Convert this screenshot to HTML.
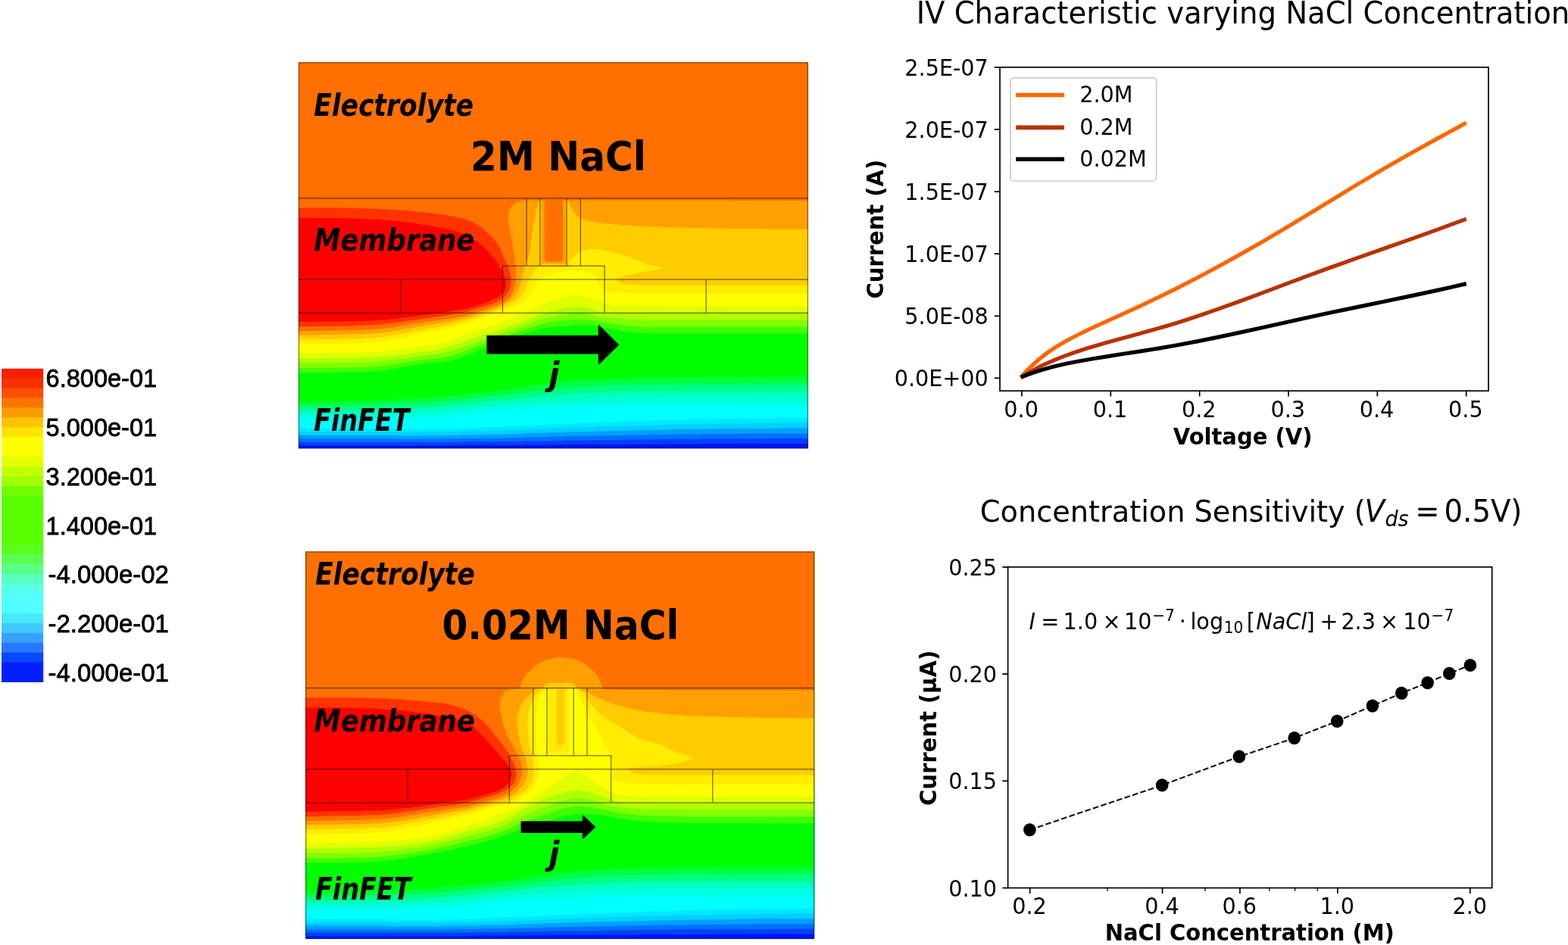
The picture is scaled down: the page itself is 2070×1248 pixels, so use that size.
<!DOCTYPE html>
<html lang="en"><head><meta charset="utf-8"><title>FinFET ion sensor: potential maps and IV characteristics</title>
<style>html,body{margin:0;padding:0;background:#fff}body{width:2070px;height:1248px;overflow:hidden}svg{display:block}.dj{font-family:"DejaVu Sans","Liberation Sans",sans-serif}.ls{font-family:"Liberation Sans","DejaVu Sans",sans-serif}.dc{font-family:"DejaVu Sans Condensed","DejaVu Sans","Liberation Sans",sans-serif}</style></head>
<body>
<svg width="2070" height="1248" viewBox="0 0 2070 1248">
<rect width="2070" height="1248" fill="#fff"/>
<g id="colorbar">
<rect x="2" y="486.8" width="55.2" height="13.33" fill="#f62000"/>
<rect x="2" y="499.73" width="55.2" height="13.33" fill="#f93000"/>
<rect x="2" y="512.66" width="55.2" height="13.33" fill="#fb5000"/>
<rect x="2" y="525.59" width="55.2" height="13.33" fill="#fb7400"/>
<rect x="2" y="538.52" width="55.2" height="13.33" fill="#fb9c00"/>
<rect x="2" y="551.46" width="55.2" height="13.33" fill="#ffc400"/>
<rect x="2" y="564.39" width="55.2" height="13.33" fill="#ffe400"/>
<rect x="2" y="577.32" width="55.2" height="13.33" fill="#ffff00"/>
<rect x="2" y="590.25" width="55.2" height="13.33" fill="#ffff00"/>
<rect x="2" y="603.18" width="55.2" height="13.33" fill="#e4ff00"/>
<rect x="2" y="616.11" width="55.2" height="13.33" fill="#c0ff00"/>
<rect x="2" y="629.04" width="55.2" height="13.33" fill="#a0ff00"/>
<rect x="2" y="641.97" width="55.2" height="13.33" fill="#70ff00"/>
<rect x="2" y="654.91" width="55.2" height="13.33" fill="#58ff00"/>
<rect x="2" y="667.84" width="55.2" height="13.33" fill="#58ff00"/>
<rect x="2" y="680.77" width="55.2" height="13.33" fill="#58ff00"/>
<rect x="2" y="693.7" width="55.2" height="13.33" fill="#58ff00"/>
<rect x="2" y="706.63" width="55.2" height="13.33" fill="#58ff00"/>
<rect x="2" y="719.56" width="55.2" height="13.33" fill="#58ff20"/>
<rect x="2" y="732.49" width="55.2" height="13.33" fill="#58ff50"/>
<rect x="2" y="745.42" width="55.2" height="13.33" fill="#58ff88"/>
<rect x="2" y="758.36" width="55.2" height="13.33" fill="#58ffc0"/>
<rect x="2" y="771.29" width="55.2" height="13.33" fill="#58ffe8"/>
<rect x="2" y="784.22" width="55.2" height="13.33" fill="#50ffff"/>
<rect x="2" y="797.15" width="55.2" height="13.33" fill="#50ffff"/>
<rect x="2" y="810.08" width="55.2" height="13.33" fill="#48e8ff"/>
<rect x="2" y="823.01" width="55.2" height="13.33" fill="#40c8ff"/>
<rect x="2" y="835.94" width="55.2" height="13.33" fill="#38a0ff"/>
<rect x="2" y="848.87" width="55.2" height="13.33" fill="#2878ff"/>
<rect x="2" y="861.81" width="55.2" height="13.33" fill="#0848ff"/>
<rect x="2" y="874.74" width="55.2" height="13.33" fill="#0020ff"/>
<rect x="2" y="887.67" width="55.2" height="13.33" fill="#0020ff"/>
<g class="ls" font-size="32.4" fill="#000" stroke="#000" stroke-width="0.8" stroke-linejoin="round">
<text transform="translate(60.6 511) scale(1.004 1)">6.800e-01</text>
<text transform="translate(60.6 575.85) scale(1.004 1)">5.000e-01</text>
<text transform="translate(60.6 640.7) scale(1.004 1)">3.200e-01</text>
<text transform="translate(60.6 705.55) scale(1.004 1)">1.400e-01</text>
<text transform="translate(63.6 770.4) scale(1.016 1)">-4.000e-02</text>
<text transform="translate(63.6 835.25) scale(1.016 1)">-2.200e-01</text>
<text transform="translate(63.6 900.1) scale(1.016 1)">-4.000e-01</text>
</g></g>
<g id="panel-2M">
<clipPath id="clipa"><rect x="394.0" y="82.3" width="673.0" height="509.99999999999994"/></clipPath>
<g clip-path="url(#clipa)" shape-rendering="geometricPrecision">
<rect x="392.0" y="80.3" width="677.0" height="514.0" fill="#0012ff"/>
<path fill="#0040ff" fill-rule="evenodd" d="M350.2 38.6l0 549.4l51.6 0l0.4 0.6l203 0l0.6-0.6l81.4 0l0.6-0.4l59 0l0.4-0.6l178-0.4l0.6-0.6l185 0l0-547.4z"/>
<path fill="#0070ff" fill-rule="evenodd" d="M350.2 38.6l0 545l51.6 0l0.4 0.4l203 0l0.6-0.4l46 0l0.4-0.6l35 0l0.6-0.4l59-0.6l0.4-0.4l36.6 0l0.4-0.6l41 0l0.6-0.4l45 0l0.4-0.6l54 0l0.6-0.4l94 0l0.4-0.6l90.6 0l0-540.4z"/>
<path fill="#00a0ff" fill-rule="evenodd" d="M350.2 38.6l0 540.4l51.6 0l0.4 0.6l125 0l0.6 0.4l29.4 0l0.6-0.4l47.4 0l0.6-0.6l59.4-0.4l0.6-0.6l21.4 0l0.6-0.4l37.4-0.6l0.6-0.4l21 0l0.4-0.6l24.6 0l0.4-0.4l24 0l0.6-0.6l28.4 0l0.6-0.4l29 0l0.4-0.6l33.6 0l0.4-0.4l36 0l0.6-0.6l52.4 0l0.6-0.4l132 0l0-534z"/>
<path fill="#00d0ff" fill-rule="evenodd" d="M350.2 38.6l0 536l51.6 0l0.4 0.4l123 0l0.6 0.6l79.4-0.6l0.6-0.4l18 0l0.4-0.6l27.6 0l0.4-0.4l15 0l0.6-0.6l19.4 0l0.6-0.4l9.4 0l0.6-0.6l17.4 0l0.6-0.4l11.4 0l0.6-0.6l19 0l0.4-0.4l12.6 0l0.4-0.6l23.6 0l0.4-0.4l14 0l0.6-0.6l26.4 0l0.6-0.4l15.4 0l0.6-0.6l29 0l0.4-0.4l20 0l0.6-0.6l33.4 0l0.6-0.4l26 0l0.4-0.6l67.6 0l0.4-0.4l90.6 0l0-527z"/>
<path fill="#00e8ff" fill-rule="evenodd" d="M350.2 38.6l0 531.4l51.6 0l0.4 0.6l123.6 0l0.4 0.4l79-0.4l0.6-0.6l16.4 0l0.6-0.4l14.4 0l0.6-0.6l15.4 0l0.6-0.4l13 0l0.4-0.6l20 0l0.6-0.4l18.4-0.6l0.6-0.4l10 0l0.4-0.6l10 0l0.6-0.4l19 0l0.4-0.6l25.6-0.4l0.4-0.6l25-0.4l0.6-0.6l26.4 0l0.6-0.4l30.4-0.6l0.6-0.4l15.4 0l0.6-0.6l18 0l0.4-0.4l34 0l0.6-0.6l54-0.4l0.4-0.6l41 0l0.6-0.4l89 0l0-520z"/>
<path fill="#00ffff" fill-rule="evenodd" d="M350.2 38.6l0 527l51.6 0l0.4 0.4l79 0l0.6 0.6l45.4 0l0.6 0.4l59-0.4l0.4-0.6l18 0l0.6-0.4l16 0l0.4-0.6l14 0l0.6-0.4l28.4-0.6l0.6-0.4l21.4-0.6l0.6-0.4l7.4 0l0.6-0.6l9.4 0l0.6-0.4l9.4 0l0.6-0.6l9.4 0l0.6-0.4l9.4 0l0.6-0.6l11 0l0.4-0.4l10.6 0l0.4-0.6l13.6 0l0.4-0.4l24-0.6l0.6-0.4l14 0l0.4-0.6l14 0l0.6-0.4l13.4 0l0.6-0.6l15 0l0.4-0.4l15.6 0l0.4-0.6l35.6-0.4l0.4-0.6l42-0.4l0.6-0.6l28.4 0l0.6-0.4l41 0l0.4-0.6l90.6 0l0-513.4z"/>
<path fill="#00ffe0" fill-rule="evenodd" d="M350.2 38.6l0 514l156 0l0.6-0.6l42.4 0l0.6-0.4l13.4 0l0.6-0.6l7.4 0l0.6-0.4l13.4-0.6l0.6-0.4l3.4 0l0.6-0.6l5.4 0l0.6-0.4l9.4-0.6l0.6-0.4l3.4 0l0.6-0.6l5.4 0l0.6-0.4l3.4 0l0.6-0.6l3.4 0l0.6-0.4l3.4 0l0.6-0.6l3.4 0l0.6-0.4l3.4 0l0.6-0.6l3.4 0l0.6-0.4l3.4 0l0.6-0.6l5.4 0l0.6-0.4l9.4-0.6l0.6-0.4l8 0l0.4-0.6l7 0l0.6-0.4l9.4 0l0.6-0.6l9.4 0l0.6-0.4l22.4-0.6l0.6-0.4l26-0.6l0.4-0.4l11 0l0.6-0.6l11 0l0.4-0.4l13.6 0l0.4-0.6l12 0l0.6-0.4l14 0l0.4-0.6l18 0l0.6-0.4l283 0.4l0-496.4z"/>
<path fill="#00ffc0" fill-rule="evenodd" d="M350.2 38.6l0 509l151-0.6l0.6-0.4l11.4 0l0.6-0.6l33.4 0l0.6-0.4l7.4 0l0.6-0.6l7.4 0l0.6-0.4l7 0l0.4-0.6l13-0.4l0.6-0.6l4 0l0.4-0.4l5.6 0l0.4-0.6l3.6 0l0.4-0.4l5.6 0l0.4-0.6l4 0l0.6-0.4l5.4 0l0.6-0.6l8.4-0.4l0.6-0.6l3.4 0l0.6-0.4l4.4 0l0.6-0.6l3.4 0l0.6-0.4l3.4 0l0.6-0.6l5.4 0l0.6-0.4l8-0.6l0.4-0.4l11-0.6l0.6-0.4l6 0l0.4-0.6l9 0l0.6-0.4l3 0l0.4-0.6l16-0.4l0.6-0.6l4 0l0.4-0.4l8 0l0.6-0.6l13-0.4l0.4-0.6l10.6 0l0.4-0.4l4 0l0.6-0.6l20.4-0.4l0.6-0.6l13 0l0.4-0.4l12 0l0.6-0.6l14 0l0.4-0.4l18 0l0.6-0.6l41 0l0.4-0.4l243.6 0.4l0-487.4z"/>
<path fill="#00ff80" fill-rule="evenodd" d="M350.2 38.6l0 503.4l81 0l0.6-0.4l43.4 0l0.6-0.6l25.4 0l0.6-0.4l11.4 0l0.6-0.6l19.4 0l0.6-0.4l21.4-0.6l0.6-0.4l7.4 0l0.6-0.6l13.4-0.4l0.6-0.6l5.4 0l0.6-0.4l4.4 0l0.6-0.6l5.4 0l0.6-0.4l3.4 0l0.6-0.6l5.4 0l0.6-0.4l4.4 0l0.6-0.6l5 0l0.4-0.4l4.6 0l0.4-0.6l3.6 0l0.4-0.4l3.6 0l0.4-0.6l3.6 0l0.4-0.4l4.6 0l0.4-0.6l3.6 0l0.4-0.4l4.6 0l0.4-0.6l4.6 0l0.4-0.4l4.6 0l0.4-0.6l5 0l0.6-0.4l5 0l0.4-0.6l5 0l0.6-0.4l3 0l0.4-0.6l6.6 0l0.4-0.4l3 0l0.6-0.6l5 0l0.4-0.4l4.6 0l0.4-0.6l6 0l0.6-0.4l3 0l0.4-0.6l5.6 0l0.4-0.4l4 0l0.6-0.6l3.4 0l0.6-0.4l6.4 0l0.6-0.6l4 0l0.4-0.4l6.6 0l0.4-0.6l12.6-0.4l0.4-0.6l20-0.4l0.6-0.6l11.4 0l0.6-0.4l9.4 0l0.6-0.6l13.4 0l0.6-0.4l17.4 0l0.6-0.6l39 0l0.4-0.4l243.6 0l0-478z"/>
<path fill="#00ff40" fill-rule="evenodd" d="M350.2 38.6l0 498l81 0l0.6-0.6l28 0l0.4-0.4l16.6 0l0.4-0.6l24 0l0.6-0.4l11.4 0l0.6-0.6l10.4 0l0.6-0.4l10.4 0l0.6-0.6l19.4-0.4l0.6-0.6l7 0l0.4-0.4l6 0l0.6-0.6l6 0l0.4-0.4l5.6 0l0.4-0.6l5 0l0.6-0.4l5.4 0l0.6-0.6l3.4 0l0.6-0.4l11.4-0.6l0.6-0.4l9.4-0.6l0.6-0.4l3.4 0l0.6-0.6l3.4 0l0.6-0.4l3.4 0l0.6-0.6l4.4 0l0.6-0.4l3.4 0l0.6-0.6l4.4 0l0.6-0.4l4.4 0l0.6-0.6l4.4 0l0.6-0.4l5.4 0l0.6-0.6l8.4-0.4l0.6-0.6l2 0l0.4-0.4l4.6 0l0.4-0.6l8-0.4l0.6-0.6l3 0l0.4-0.4l4 0l0.6-0.6l8.4-0.4l0.6-0.6l2 0l0.4-0.4l4.6 0l0.4-0.6l2 0l0.6-0.4l4 0l0.4-0.6l3 0l0.6-0.4l5 0l0.4-0.6l7-0.4l0.6-0.6l4.4 0l0.6-0.4l5.4 0l0.6-0.6l5 0l0.4-0.4l7.6 0l0.4-0.6l7.6 0l0.4-0.4l8 0l0.6-0.6l21.4-0.4l0.6-0.6l31.4-0.4l0.6-0.6l69-0.4l0.4-0.6l211.6 0l0-468.4z"/>
<path fill="#00ff00" fill-rule="evenodd" d="M350.2 38.6l0 492.4l1 0l0.6 0.6l39.4 0l0.6-0.6l67-0.4l0.4-0.6l30-0.4l0.6-0.6l23.4-0.4l0.6-0.6l9.4 0l0.6-0.4l9.4 0l0.6-0.6l15.4-0.4l0.6-0.6l5.4 0l0.6-0.4l7 0l0.4-0.6l5.6 0l0.4-0.4l5.6 0l0.4-0.6l5.6 0l0.4-0.4l11.6-0.6l0.4-0.4l3.6 0l0.4-0.6l12-0.4l0.6-0.6l10-0.4l0.4-0.6l4 0l0.6-0.4l3.4 0l0.6-0.6l5.4 0l0.6-0.4l3.4 0l0.6-0.6l3.4 0l0.6-0.4l5.4 0l0.6-0.6l7-0.4l0.4-0.6l5 0l0.6-0.4l7.4-0.6l2.6-1l4 0l0.4-0.4l3.6 0l0.4-0.6l2 0l0.6-0.4l3.4 0l2.6-1l8-0.6l2.4-1l4 0l2.6-1l3.4 0l2.6-1l4 0l2-1l7.4-0.4l0.6-0.6l3 0l0.4-0.4l3 0l0.6-0.6l3 0l0.4-0.4l3 0l0.6-0.6l5.4 0l0.6-0.4l3.4 0l0.6-0.6l7.4 0l0.6-0.4l7.4 0l0.6-0.6l7.4 0l0.6-0.4l21.4-0.6l0.6-0.4l31.4-0.6l0.6-0.4l19 0l0.4-0.6l19.6 0l0.4-0.4l30 0l0.6-0.6l213-0.4l0-459z"/>
<path fill="#40ff00" fill-rule="evenodd" d="M350.2 38.6l0 454l68.6 0l0.4-0.6l34 0l0.6-0.4l19 0l0.4-0.6l11 0l0.6-0.4l14.4-0.6l0.6-0.4l4 0l0.4-0.6l3.6 0l0.4-0.4l4 0l2.6-1l4 0l2.4-1l4 0l0.6-0.6l4-0.4l0.4-0.6l3.6 0l0.4-0.4l1.6 0l2.4-1l3.6 0l2.4-1l3.6 0l2-1l6.4-0.6l0.6-0.4l2.4 0l0.6-0.6l9.4-0.4l0.6-0.6l8 0l0.4-0.4l3.6 0l0.4-0.6l5 0l2.6-1l3.4 0l0.6-0.4l5.4-1l2.6-1.6l6.4-1.4l5-2.6l1 0l3-1.4l2.6-0.6l1.4-1l2.6-0.4l3-2l2.4-0.6l3.6-2l2.4-0.4l8.6-4l2.4-0.6l3-1.4l3-0.6l5-2.4l2.6-0.6l1.4-1l2.6-0.4l3-1.6l3-0.4l1.4-1l2.6-0.6l5.4-2.4l3.6-0.6l3-1.4l1 0l2-1l1.4 0l4-2l1.6 0l0.4-0.6l1.6 0l0.4-0.4l1.6 0l0.4-0.6l7.6-1.4l2-1l1.4 0l0.6-0.6l1.4 0l2.6-1l6-0.4l2.4-1l4 0l0.6-0.6l3.4 0l0.6-0.4l6 0l0.4-0.6l6 0l0.6-0.4l5.4 0l0.6-0.6l6 0l0.4-0.4l20 0l0.6 0.4l5.4 0l0.6 0.6l3.4 0l0.6 0.4l2 0l0.4 0.6l3.6 0l0.4 0.4l1.6 0l2.4 1l2 0l0.6 0.6l3.4 0l2 1l1.6 0l0.4 0.4l1.6 0l0.4 0.6l1.6 0l2.4 1l3.6 0l0.4 0.4l2 0l2.6 1l3.4 0l0.6 0.6l7 0.4l0.4 0.6l18 0.4l0.6 0.6l257 0l0-402z"/>
<path fill="#80ff00" fill-rule="evenodd" d="M350.2 38.6l0 447.4l1 0l0.6 0.6l39.4 0l0.6-0.6l53 0l0.4-0.4l25.6 0l0.4-0.6l11 0l0.6-0.4l15-0.6l0.4-0.4l4 0l0.6-0.6l4 0l0.4-0.4l4.6 0l0.4-0.6l2 0l0.6-0.4l8.4-0.6l0.6-0.4l2 0l0.4-0.6l2 0l0.6-0.4l3.4 0l0.6-0.6l2.4 0l0.6-0.4l2 0l0.4-0.6l7.6-0.4l2.4-1l6.6-0.6l0.4-0.4l6-0.6l0.6-0.4l5.4 0l0.6-0.6l2.4 0l0.6-0.4l6 0l0.4-0.6l2.6 0l0.4-0.4l4.6 0l0.4-0.6l2 0l2.6-1l2.4 0l0.6-0.4l3.4-0.6l3-1.4l1.6 0l0.4-0.6l5.6-1.4l1.4-1l1 0l1.6-1l6.4-2l1.6-1l3-0.6l3-2l1 0l0.4-0.4l2.6-0.6l1.4-1l2.6-0.4l1.4-1l2.6-0.6l5-2.4l1.4 0l0.6-0.6l8.4-2.4l1.6-1l8-2.6l1.4-1l4.6-1l1.4-1l2.6-0.4l5.4-2.6l6-1.4l1.6-1l4-1l2.4-1.6l3-0.4l2-1l1.6 0l3-1.6l1.4 0l2-1l1.6 0l3.4-1.4l1.6 0l0.4-0.6l5-1l0.6-0.4l2.4 0l4-1.6l3 0l2-1l7.6-0.4l2.4-1l4.6 0l0.4-0.6l7-0.4l0.6-0.6l5.4 0l0.6-0.4l12 0l0.4 0.4l6 0l0.6 0.6l3.4 0l0.6 0.4l2 0l0.4 0.6l3 0l2 1l3 0l2.6 1l3.4 0l0.6 0.4l6 0.6l0.4 0.4l4.6 0l0.4 0.6l5 0.4l0.6 0.6l2.4 0l0.6 0.4l4.4 0l0.6 0.6l8 0.4l0.4 0.6l6.6 0l0.4 0.4l8 0l0.6 0.6l265 0l0-393z"/>
<path fill="#b0ff00" fill-rule="evenodd" d="M350.2 38.6l0 441l1 0l0.6 0.4l39.4 0l0.6-0.4l53 0l0.4-0.6l24 0l0.6-0.4l11 0l0.4-0.6l17.6-0.4l0.4-0.6l11.6-0.4l0.4-0.6l3 0l0.6-0.4l3 0l0.4-0.6l4.6 0l0.4-0.4l3.6 0l0.4-0.6l3.6 0l0.4-0.4l6.6-0.6l0.4-0.4l2.6 0l0.4-0.6l3.6 0l0.4-0.4l2 0l0.6-0.6l3 0l0.4-0.4l3 0l0.6-0.6l3 0l0.4-0.4l3 0l0.6-0.6l4.4 0l0.6-0.4l2.4 0l0.6-0.6l5.4 0l2.6-1l6-0.4l2.4-1l2 0l0.6-0.6l2 0l0.4-0.4l3.6-0.6l0.4-0.4l8.6-2.6l1.4-1l4-1l2.6-1.4l2.4-0.6l1.6-1l1.4 0l0.6-0.4l2.4-0.6l2.6-1.4l1 0l2-1l1.4 0l1.6-1l8-2.6l1.4-1l3-0.4l2-1l1.6 0l3-1.6l3-0.4l3-1.6l7-2l1.4-1l4.6-1l1.4-1l2.6-0.4l5.4-2.6l3-0.4l5.6-2.6l2.4-0.4l5-2.6l1.6 0l4-2l1 0l9.4-3.4l1.6 0l5-2l1.4 0l0.6-0.6l1.4 0l1.6-1l1.4 0l0.6-0.4l1.4 0l0.6-0.6l1.4 0l2.6-1l2.4 0l0.6-0.4l1.4 0l2.6-1l2 0l0.4-0.6l2 0l0.6-0.4l2 0l0.4-0.6l6.6-0.4l0.4-0.6l5 0l0.6-0.4l14 0l0.4 0.4l4.6 0l0.4 0.6l2.6 0l0.4 0.4l1.6 0l0.4 0.6l7.6 1.4l1.4 1l2 0l0.6 0.6l1.4 0l2.6 1l14 0.4l0.4 0.6l13 0.4l0.6 0.6l8.4 0l0.6 0.4l15 0l0.4 0.6l263.6 0l0-384z"/>
<path fill="#e0ff00" fill-rule="evenodd" d="M350.2 38.6l0 434.4l1 0l0.6 0.6l93-0.6l0.4-0.4l27.6 0l0.4-0.6l24-0.4l0.6-0.6l6 0l0.4-0.4l5.6 0l0.4-0.6l4 0l0.6-0.4l10.4-0.6l0.6-0.4l8-0.6l0.4-0.4l3.6 0l0.4-0.6l3.6 0l0.4-0.4l3.6 0l0.4-0.6l10-1l0.6-0.4l2.4 0l0.6-0.6l7.4-0.4l2.6-1l4 0l0.4-0.6l1.6 0l2.4-1l3.6 0l0.4-0.4l3.6-0.6l2-1l1.4 0l0.6-0.4l7.4-1.6l2.6-1.4l2.4-0.6l3-1.4l1.6 0l2.4-1.6l2.6-0.4l1.4-1l5-1l4-2l3.6-0.6l3-1.4l1 0l2-1l1.4 0l4.6-2l5.4-1l4.6-2l3.4-0.6l3-1.4l3-0.6l3-1.4l4.6-1l1.4-1l2.6-0.6l1.4-1l1 0l3-1.4l6.6-2l2.4-1.6l2.6-0.4l5-2.6l2.4-0.4l3-2l2.6-0.6l1.4-1l4-1l3-1.4l3-0.6l2.6-1.4l1.4 0l3-1.6l4.6-1l3-1.4l4.4-0.6l4.6-2l2 0l0.4-0.4l1.6 0l4-1.6l4 0l2.4-1l4 0l0.6-0.4l16 0l0.4 0.4l4 0l0.6 0.6l5.4 1l3 1.4l3 0.6l5.6 2.4l3.4 0.6l2 1l314.6 0l0-375z"/>
<path fill="#ffff00" fill-rule="evenodd" d="M350.2 38.6l0 428l72.6 0l0.4-0.6l36.6 0l0.4-0.4l20.6 0l0.4-0.6l10.6 0l0.4-0.4l7 0l0.6-0.6l12.4-0.4l0.6-0.6l3.4 0l0.6-0.4l4 0l0.4-0.6l4 0l0.6-0.4l3.4 0l0.6-0.6l4 0l0.4-0.4l7.6-0.6l2.4-1l3.6 0l0.4-0.4l3 0l0.6-0.6l4.4 0l0.6-0.4l2.4 0l0.6-0.6l3.4 0l2.6-1l3.4 0l0.6-0.4l2 0l0.4-0.6l3.6 0l0.4-0.4l1.6 0l0.4-0.6l1.6 0l0.4-0.4l1.6 0l0.4-0.6l3.6-0.4l2-1l1.4 0l0.6-0.6l5-1l1.4-1l2.6-0.4l3-2l2.4-0.6l9-4.4l3-0.6l4.6-2l3.4-0.4l6-2.6l3.6-0.4l3-1.6l3-0.4l0.4-0.6l2.6-0.4l1.4-1l3-0.6l3-1.4l4.6-1l5-2.6l4.4-1l1.6-1l2.4-0.4l1.6-1l2.4-0.6l5.6-2.4l4-1l7-3.6l2.4-0.4l2-1.6l5-2.4l1 0l4.6-2.6l2.4-0.4l7.6-4l2.4-0.6l9-4.4l1 0l3-1.6l2.6-0.4l1.4-1l4-1l1.6-1l3-0.6l0.4-0.4l2 0l0.6-0.6l1.4 0l0.6-0.4l1.4 0l2.6-1l3.4 0l0.6-0.6l10 0l0.4 0.6l6 0.4l3 1.6l3 0.4l3 1.6l5 1.4l1.6 1l2.4 0.6l5 2.4l1.6 0l0.4 0.6l1.6 0l2.4 1l2 0l0.6 0.4l1.4 0l2.6 1l5 0l0.4 0.6l13.6 0l0.4 0.4l47 0l0.6 0.6l237 0l0-366z"/>
<path fill="#ffec00" fill-rule="evenodd" d="M350.2 38.6l0 415.4l101 0l0.6-0.4l23 0l0.4-0.6l18-0.4l0.6-0.6l3.4 0l0.6-0.4l3.4 0l0.6-0.6l8-0.4l2.4-1l3.6 0l0.4-0.6l2 0l0.6-0.4l1.4 0l2.6-1l3.4 0l0.6-0.6l2 0l0.4-0.4l1.6 0l0.4-0.6l1.6 0l0.4-0.4l1.6 0l2.4-1l3.6 0l0.4-0.6l5.6-1l4-1.4l3 0l0.4-0.6l1.6 0l2.4-1l3 0l0.6-0.4l1.4 0l0.6-0.6l1.4 0l0.6-0.4l1.4 0l2.6-1l4 0l0.4-0.6l1.6 0l0.4-0.4l1.6 0l0.4-0.6l1.6 0l0.4-0.4l1.6 0l0.4-0.6l1.6 0l2.4-1l2 0l0.6-0.4l3.4 0l4-1.6l1.6 0l0.4-0.4l3.6-0.6l2-1l1.4 0l2-1l7.6-1.4l4.4-2l2 0l3-1.6l3-0.4l6-2.6l1.6 0l5-2.4l5.4-1l3-1.6l5-1l1.6-1l2.4-0.4l5.6-2.6l3-0.4l3.4-2l5-1.6l15-7.4l4.6-4l0.4 0l3.6-3.6l0.4-1.4l2.6-2.6l0.4-2l6-11.4l5-5l13-7l1.6 0l4.4-2l2 0l0.6-0.6l1.4 0l2.6-1l3.4 0l0.6-0.4l3.4 0l0.6-0.6l6 0l0.4-0.4l14.6 0l0.4 0.4l4 0l0.6 0.6l2 0l0.4 0.4l5 1l2 1l3.6 3l3.4 5l0.6 3l2 5l5 5l2.4 1l2 1.6l3.6 0.4l2 1l8 0l0.4 0.6l17 0l0.6 0.4l109 0.6l0.4 0.4l169.6 0l0-349.4z"/>
<path fill="#ffcc00" fill-rule="evenodd" d="M350.2 38.6l0 410l96.6-0.6l0.4-0.4l21 0l0.6-0.6l12 0l0.4-0.4l8.6 0l0.4-0.6l5 0l0.6-0.4l5.4 0l0.6-0.6l8-0.4l2.4-1l3.6 0l0.4-0.6l2 0l0.6-0.4l3.4 0l2.6-1l3.4 0l0.6-0.6l2 0l0.4-0.4l1.6 0l2.4-1l3.6 0l0.4-0.6l1.6 0l2.4-1l3.6 0l4-1.4l3 0l0.4-0.6l5-0.4l2.6-1l3.4 0l0.6-0.6l1.4 0l2.6-1l4 0l0.4-0.4l1.6 0l0.4-0.6l1.6 0l2.4-1l3.6 0l0.4-0.4l4-0.6l0.6-0.4l1.4 0l2.6-1l3 0l0.4-0.6l5.6-1l2-1l3 0l0.4-0.4l5.6-1l4.4-2l2 0l4.6-2l3.4-0.6l1.6-1l1 0l2-1l1.4 0l5-2.4l2.6 0l1.4-1l4.6-1l2.4-1.6l3-0.4l3.6-2l3-0.6l5.4-3l2.6-0.4l3-1.6l6-4l4.4-2l2-2l1.6-0.4l6.4-7.6l4-8l2-6.4l1.6-2l2-4.6l1-1l3-6l5.4-6.4l3.6-0.6l0.4-0.4l36.6 0l3-8l2.4-3.6l4-4l0.6 0l3-3l6-3l1.4 0l2.6-1l2 0l2-1l12 0l0.4 0.6l4 0l0.6 0.4l1.4 0l0.6 0.6l1.4 0l0.6 0.4l1.4 0l2.6 1l2 0l2.4 1l3 0l3 1.6l4 0.4l2.6 1l2 0l0.4 0.6l3 0.4l3 1.6l1.6 0l1.4 1l2.6 0.4l3.4 2l2.6 0.6l1.4 1l2.6 0.4l1.4 1l2.6 0.6l5.4 2.4l4.6 1l3 1.6l1.4 0l2.6 1l4.4 0l0.6 0.4l1.4 0l2.6 1l3 0l0.4 0.6l-0.4 0.4l-1 0l-2 1l-1.6 0l-0.4 0.6l-4.6 0.4l-0.4 0.6l-4 0.4l-0.6 0.6l-4 0l-0.4 0.4l-2 0l-0.6 0.6l-1.4 0l-0.6 0.4l-1.4 0l-2.6 1l-4 0l-0.4 0.6l-1.6 0l-2.4 1l-2 0l-2.6 1l-3 0l-0.4 0.4l-1.6 0l-2.4 1l-4 0.6l-1.6 1l-1.4 0l-3 1.4l-4.6 1l-1 0.6l7.6 5.4l3 0.6l0.4 0.4l3 0l0.6 0.6l5 0l0.4 0.4l10.6 0l0.4 0.6l267.6 0l0-338z"/>
<path fill="#ffa000" fill-rule="evenodd" d="M350.2 38.6l0 404l68.6 0l0.4-0.6l34 0l0.6-0.4l19 0l0.4-0.6l11 0l0.6-0.4l7 0l0.4-0.6l7 0l0.6-0.4l3.4 0l0.6-0.6l4 0l0.4-0.4l7.6-0.6l0.4-0.4l2 0l0.6-0.6l3.4 0l2.6-1l3.4 0l0.6-0.4l2 0l0.4-0.6l3.6 0l2.4-1l3.6 0l2.4-1l3.6 0l4-1.4l7-0.6l2-1l3.4 0l2.6-1l3.4 0l2.6-1l4 0l0.4-0.4l1.6 0l2.4-1l3.6 0l2.4-1l4 0l0.6-0.6l1.4 0l2.6-1l3 0l0.4-0.4l1.6 0l2.4-1l3 0l2-1l1.6 0l0.4-0.6l1.6 0l2.4-1l2 0l0.6-0.4l3.4-0.6l3-1.4l4-0.6l4.6-2l5.4-1l0.6-0.4l4-1l1.4-1l3-0.6l1.6-1l2.4-0.4l5.6-3l5-1.6l5-2.4l2.4-2l1.6-0.6l4.4-3l6-6l6.6-11l0.4-3l2-4.4l0.6-4.6l1-2.4l0-4l1-2.6l0-2l0.4-0.4l0.6-3.6l1.4-3l0.6-2.4l1-1.6l0.4-2.4l2.6-4l0.4-3l0.6-0.6l0-3.4l1-2.6l0-4l0.4-0.4l0-2l0.6-0.6l0.4-8.4l1-2.6l0-4l1-2.4l0-3.6l0.6-0.4l0-2l0.4-0.6l0-3.4l0.6-0.6l0-2l0.4-0.4l0.6-4l1-2.6l0-4l0.4-0.4l1-5.6l1.6-3l0-1.4l0.4-0.6l0-1.4l0.6-0.6l0.4-2.4l1-1l1 0l0.6-0.6l1 0.6l0 82.4l32 0l0-82.4l1-1l1 0l1.4 1.4l4.6 9.6l5 7l4 4l2.4 1l2.6 2l2.4 0.4l1.6 1l7.4 1.6l0.6 0.4l8.4 0.6l2.6 1l8.4 0.4l0.6 0.6l3.4 0l0.6 0.4l6 0l0.4 0.6l3.6 0l0.4 0.4l13.6 0.6l0.4 0.4l6 0l0.6 0.6l10 0l0.4 0.4l12.6 0l0.4 0.6l12 0l0.6 0.4l15 0l0.4 0.6l19 0l0.6 0.4l23 0l0.4 0.6l28.6 0l0.4 0.4l53 0l0.6 0.6l98 0l0-264z"/>
<path fill="#ff7000" fill-rule="evenodd" d="M350.2 38.6l0 399l83.6-0.6l0.4-0.4l42.6-0.6l0.4-0.4l11 0l0.6-0.6l12.4-0.4l0.6-0.6l4 0l0.4-0.4l3.6 0l0.4-0.6l3.6 0l0.4-0.4l4 0l2.6-1l3.4 0l2.6-1l4 0l2.4-1l3.6 0l2.4-1l3.6 0l2.4-1l7-0.6l2-1l3.6 0l0.4-0.4l3 0l0.6-0.6l7.4-0.4l2.6-1l4 0l0.4-0.6l7.6-0.4l2.4-1l8-0.6l2-1l3.6 0l2.4-1l3 0l2-1l3.6 0l5-2l2 0l0.4-0.4l3.6-0.6l1.4-1l3.6-0.4l4.4-2l3.6-0.6l5-2l5-1l5-2.4l6.4-2l11-5.6l6.6-6l2.4-5l1-1l2-4.4l0-1.6l1-2.4l0-2l0.6-0.6l0-2l0.4-0.4l0-19l-0.4-0.6l0-4l-0.6-0.4l-0.4-7.6l-0.6-0.4l0-2l-0.4-0.6l0-3.4l-1-2.6l0-4l-0.6-0.4l0-2l-0.4-0.6l0-3.4l-1-2.6l0-4l-0.6-0.4l0-1.6l-0.4-0.4l0-1.6l-1-2.4l0-3.6l-0.6-0.4l0-2l-1-2.6l0-3.4l-1-2.6l0-10.4l0.6-0.6l0-4l3-6l4.4-4.4l3.6-2l3.4-0.6l1.6-1l3.4 0l0.6-0.4l26.4 0l0.6 0.4l0 77l3 3.6l18.4 0l2-1.6l1-2l0-77l0.6-0.4l220.4 0l0.6 0.4l146 0l0-226.4z"/>
<path fill="#ff3300" fill-rule="evenodd" d="M350.2 274.6l0 157l57 0l0.6-0.6l34.4 0l0.6-0.4l23.4 0l0.6-0.6l14 0l0.4-0.4l8.6 0l0.4-0.6l7 0l0.6-0.4l5.4 0l0.6-0.6l4 0l0.4-0.4l10-0.6l2.6-1l3.4 0l0.6-0.4l3.4 0l0.6-0.6l4 0l2.4-1l3.6 0l0.4-0.4l7-0.6l2.6-1l3.4 0l0.6-0.4l3 0l0.4-0.6l3 0l0.6-0.4l7.4-0.6l0.6-0.4l2 0l0.4-0.6l3.6 0l0.4-0.4l6-0.6l0.6-0.4l2 0l0.4-0.6l8-0.4l2.6-1l3.4 0l2-1l3 0l0.6-0.6l2.4 0l0.6-0.4l3 0l0.4-0.6l1.6 0l2.4-1l2 0l0.6-0.4l5.4-1l4.6-2l5.4-1l1.6-1l5-1l2.4-1.6l5-1l0.6-0.4l1.4 0l2.6-1.6l1 0l10-5l4.4-3l3-3l1-2l1.6-1.4l3-6.6l0-2l0.4-0.4l0-2l0.6-0.6l0-6.4l-0.6-0.6l0-4l-1-2.4l0-2l-0.4-0.6l-1-5.4l-6.6-13l0-1l-1.4-2.6l-0.6-2.4l-2-3.6l-0.4-2.4l-3-4.6l-1-2.4l-2.6-2.6l-1.4-2.4l-15-14.6l-12-8l-3.6-1l-3.4-2l-2.6-0.4l-3-1.6l-2 0l-0.4-0.4l-1.6 0l-2.4-1l-3 0l-0.6-0.6l-5-1l-0.4-0.4l-3.6 0l-0.4-0.6l-2 0l-2.6-1l-4 0l-2.4-1l-4 0l-2.6-1l-5 0l-0.4-0.4l-7-0.6l-0.6-0.4l-3 0l-0.4-0.6l-6 0l-0.6-0.4l-3.4 0l-0.6-0.6l-6 0l-0.4-0.4l-3.6 0l-0.4-0.6l-14-0.4l-0.6-0.6l-9 0l-0.4-0.4l-9 0l-0.6-0.6l-12 0l-0.4-0.4l-14.6 0l-0.4-0.6l-20 0l-0.6-0.4z"/>
<path fill="#ff0000" fill-rule="evenodd" d="M350.2 288l0 137l5 0l0.6 0.6l33 0l0.4-0.6l45.6 0l0.4-0.4l48-0.6l0.6-0.4l11.4 0l0.6-0.6l8 0l0.4-0.4l11.6-0.6l0.4-0.4l4 0l0.6-0.6l3.4 0l0.6-0.4l3.4 0l0.6-0.6l3.4 0l0.6-0.4l3.4 0l0.6-0.6l3.4 0l0.6-0.4l4 0l2.4-1l3.6 0l2.4-1l4 0l0.6-0.6l7.4-0.4l2.6-1l8-0.6l0.4-0.4l2 0l0.6-0.6l4 0l2.4-1l4.6 0l0.4-0.4l3.6 0l0.4-0.6l2 0l0.6-0.4l7-0.6l0.4-0.4l2.6 0l0.4-0.6l1.6 0l2.4-1l3.6 0l0.4-0.4l5.6-1l2.4-1.6l5-1l0.6-0.4l1.4 0l1.6-1l3-0.6l1.4-1l3-0.4l3-1.6l2.6-0.4l5-3l2.4-0.6l5-2.4l3.6-2.6l4.4-4.4l2.6-5.6l0-2l0.4-0.4l0-6l-1.4-3l0-1l-1.6-2.6l-1.4-5l-6-11.4l-2-2l-1.6-3l-2-2l0-0.6l-7-7.4l0-0.6l-10.4-10.4l-2-1l-2.6-2.6l-5-2.4l-2-2l-9-4.6l-2.4-0.4l-3.6-2l-3-0.6l-6-2.4l-1.4 0l-0.6-0.6l-1.4 0l-2.6-1l-2 0l-0.4-0.4l-1.6 0l-0.4-0.6l-1.6 0l-0.4-0.4l-1.6 0l-2.4-1l-4 0l-0.6-0.6l-1.4 0l-2.6-1l-3 0l-2-1l-3.4 0l-2.6-1l-7-0.4l-0.4-0.6l-2 0l-0.6-0.4l-3.4 0l-2.6-1l-4 0l-0.4-0.6l-3.6 0l-0.4-0.4l-4 0l-0.6-0.6l-3.4 0l-0.6-0.4l-3.4 0l-0.6-0.6l-5 0l-0.4-0.4l-11-0.6l-0.6-0.4l-8 0l-0.4-0.6l-16-0.4l-0.6-0.6l-12 0l-0.4-0.4l-14 0l-0.6-0.6z"/>
</g>
<g fill="none" stroke="#000" stroke-opacity="0.55" stroke-width="1.25">
<path d="M394 261.8H1067M394 369.1H1067M394 413.3H1067M529 369.1V413.3M932.2 369.1V413.3M663.5 413.3V351.1H798.1V413.3M695.2 261.8V351.1M713 261.8V351.1M748 261.8V351.1M766.4 261.8V351.1"/>
</g>
<rect x="394.55" y="82.85" width="671.9" height="508.9" fill="none" stroke="#1a1a1a" stroke-opacity="0.55" stroke-width="1.2"/>
<text class="dc" transform="translate(414.3 152.9) scale(0.943 1)" font-weight="bold" font-style="italic" font-size="40.7" fill="#000">Electrolyte</text>
<text class="dc" transform="translate(621 224.8) scale(1.052 1)" font-weight="bold" font-size="53" fill="#000">2M NaCl</text>
<text class="dc" transform="translate(414.2 330.5) scale(0.969 1)" font-weight="bold" font-style="italic" font-size="40.7" fill="#000">Membrane</text>
<text class="dc" transform="translate(414.2 568.9) scale(0.912 1)" font-weight="bold" font-style="italic" font-size="40.7" fill="#000">FinFET</text>
<text class="dc" transform="translate(724.4 509.2) scale(1.080 1)" font-weight="bold" font-style="italic" font-size="42.4" fill="#000">j</text>
<path d="M643.3 443.9H790.6V430.1L816.2 455.3L790.6 480.5V466.7H643.3z" fill="#000" stroke="#000" stroke-width="1.6" stroke-linejoin="round"/>
</g>
<g id="panel-002M">
<clipPath id="clipb"><rect x="403.4" y="728.4" width="671.6999999999999" height="511.69999999999993"/></clipPath>
<g clip-path="url(#clipb)" shape-rendering="geometricPrecision">
<rect x="401.4" y="726.4" width="675.6999999999999" height="515.6999999999999" fill="#0012ff"/>
<path fill="#0040ff" fill-rule="evenodd" d="M359.6 684.6l0 551.6l265 0l0.6-0.6l75 0l0.4-0.4l139.6-0.6l0.4-0.4l103.6 0l0.4-0.6l174 0l0-549z"/>
<path fill="#0070ff" fill-rule="evenodd" d="M359.6 684.6l0 547l265 0l0.6-0.4l43 0l0.4-0.6l31.6 0l0.4-0.4l27.6 0l0.4-0.6l70-0.4l0.6-0.6l41 0l0.4-0.4l46.6 0l0.4-0.6l231-1l0-542z"/>
<path fill="#00a0ff" fill-rule="evenodd" d="M359.6 684.6l0 542.6l150.6 0l0.4 0.4l74.6 0l0.4-0.4l69.6-0.6l0.4-0.4l24.6 0l0.4-0.6l39.6-0.4l0.4-0.6l17.6 0l0.4-0.4l48-0.6l0.6-0.4l24 0l0.4-0.6l28.6 0l0.4-0.4l30.6 0l0.4-0.6l34 0l0.6-0.4l96-0.6l0.4-0.4l116 0l0-535.6z"/>
<path fill="#00d0ff" fill-rule="evenodd" d="M359.6 684.6l0 538l148.6 0l0.4 0.6l78.6 0l0.4-0.6l37 0l0.6-0.4l16 0l0.4-0.6l26.6 0l0.4-0.4l13.6 0l0.4-0.6l17.6 0l0.4-0.4l11.6 0l0.4-0.6l15.6 0l0.4-0.4l11.6 0l0.4-0.6l20.6 0l0.4-0.4l37-0.6l0.6-0.4l14 0l0.4-0.6l26.6 0l0.4-0.4l17 0l0.6-0.6l29 0l0.4-0.4l20.6 0l0.4-0.6l35.6 0l0.4-0.4l26 0l0.6-0.6l147.4-0.4l0-528.6z"/>
<path fill="#00e8ff" fill-rule="evenodd" d="M359.6 684.6l0 533.6l149 0l0.6 0.4l77.4 0l0.6-0.4l37.4 0l0.6-0.6l31-0.4l0.4-0.6l13 0l0.6-0.4l11.4 0l0.6-0.6l18 0l0.4-0.4l10.6 0l0.4-0.6l9.6 0l0.4-0.4l18.6-0.6l0.4-0.4l20.6 0l0.4-0.6l14 0l0.6-0.4l24-0.6l0.4-0.4l12.6 0l0.4-0.6l26.6 0l0.4-0.4l16 0l0.6-0.6l15.4 0l0.6-0.4l15.4 0l0.6-0.6l18.4 0l0.6-0.4l36 0l0.4-0.6l24.6 0l0.4-0.4l81-0.6l0.6-0.4l67.4 0l0-521.6z"/>
<path fill="#00ffff" fill-rule="evenodd" d="M359.6 684.6l0 529l84.6 0l0.4 0.6l65.6 0l0.4 0.4l74.6 0l0.4-0.4l20 0l0.6-0.6l18.4 0l0.6-0.4l14 0l0.4-0.6l28.6-0.4l0.4-0.6l11.6 0l0.4-0.4l9.6 0l0.4-0.6l9.6 0l0.4-0.4l19.6-0.6l0.4-0.4l17.6-0.6l0.4-0.4l22.6-0.6l0.4-0.4l13 0l0.6-0.6l11.4 0l0.6-0.4l11.4 0l0.6-0.6l12 0l0.4-0.4l14 0l0.6-0.6l14 0l0.4-0.4l15 0l0.6-0.6l15 0l0.4-0.4l15.6 0l0.4-0.6l18 0l0.6-0.4l17.4 0l0.6-0.6l20 0l0.4-0.4l23.6 0l0.4-0.6l33.6 0l0.4-0.4l116-0.6l0-515z"/>
<path fill="#00ffe0" fill-rule="evenodd" d="M359.6 684.6l0 516l103.6 0l0.4-0.4l77 0l0.6-0.6l23.4 0l0.6-0.4l11 0l0.4-0.6l7.6 0l0.4-0.4l11.6-0.6l0.4-0.4l3.6 0l0.4-0.6l5.6 0l0.4-0.4l9.6-0.6l0.4-0.4l3.6 0l0.4-0.6l3.6 0l0.4-0.4l5.6 0l0.4-0.6l3.6 0l0.4-0.4l3.6 0l0.4-0.6l3.6 0l0.4-0.4l3.6 0l0.4-0.6l3.6 0l0.4-0.4l3.6 0l0.4-0.6l3.6 0l0.4-0.4l11-0.6l0.6-0.4l8.4 0l0.6-0.6l16.4-0.4l0.6-0.6l10 0l0.4-0.4l22.6-0.6l0.4-0.4l25.6-0.6l0.4-0.4l23-0.6l0.6-0.4l13.4 0l0.6-0.6l12 0l0.4-0.4l14 0l0.6-0.6l20 0l0.4-0.4l278 0.4l0-498z"/>
<path fill="#00ffc0" fill-rule="evenodd" d="M359.6 684.6l0 511l102.6-0.4l0.4-0.6l47.6 0l0.4-0.4l28 0l0.6-0.6l17 0l0.4-0.4l18.6-0.6l0.4-0.4l7.6 0l0.4-0.6l11.6-0.4l0.4-0.6l3.6 0l0.4-0.4l5.6 0l0.4-0.6l3.6 0l0.4-0.4l5.6 0l0.4-0.6l3.6 0l0.4-0.4l10-0.6l0.6-0.4l4 0l0.4-0.6l3.6 0l0.4-0.4l3.6 0l0.4-0.6l4.6 0l0.4-0.4l3.6 0l0.4-0.6l3.6 0l0.4-0.4l5 0l0.6-0.6l3.4 0l0.6-0.4l12-0.6l0.4-0.4l6.6 0l0.4-0.6l6.6 0l0.4-0.4l3.6 0l0.4-0.6l16.6-0.4l0.4-0.6l5 0l0.6-0.4l8.4 0l0.6-0.6l3.4 0l0.6-0.4l9 0l0.4-0.6l7.6 0l0.4-0.4l6 0l0.6-0.6l21.4-0.4l0.6-0.6l13 0l0.4-0.4l12 0l0.6-0.6l14 0l0.4-0.4l47.6-0.6l0.4-0.4l91.6 0l0.4 0.4l116 0l0.6-0.4l44.4 0l0-488.6z"/>
<path fill="#00ff80" fill-rule="evenodd" d="M359.6 684.6l0 505.6l100.6-0.6l0.4-0.4l49.6-0.6l0.4-0.4l21.6 0l0.4-0.6l8 0l0.6-0.4l15 0l0.4-0.6l8 0l0.6-0.4l16-0.6l0.4-0.4l5 0l0.6-0.6l5.4 0l0.6-0.4l5 0l0.4-0.6l5.6 0l0.4-0.4l3.6 0l0.4-0.6l5.6 0l0.4-0.4l3.6 0l0.4-0.6l5 0l0.6-0.4l9.4-0.6l0.6-0.4l3.4 0l0.6-0.6l3.4 0l0.6-0.4l4.4 0l0.6-0.6l3.4 0l0.6-0.4l3.4 0l0.6-0.6l5.4 0l0.6-0.4l3.4 0l0.6-0.6l10.4-0.4l0.6-0.6l9.4-0.4l0.6-0.6l4.4 0l0.6-0.4l3.4 0l0.6-0.6l6.4 0l0.6-0.4l3 0l0.4-0.6l11-0.4l0.6-0.6l3 0l0.4-0.4l5 0l0.6-0.6l10-0.4l0.4-0.6l4.6 0l0.4-0.4l12-0.6l0.6-0.4l8 0l0.4-0.6l7.6 0l0.4-0.4l8 0l0.6-0.6l11.4 0l0.6-0.4l11.4 0l0.6-0.6l13 0l0.4-0.4l48.6-0.6l0.4-0.4l73.6 0l0.4-0.6l18.6 0l0.4 0.6l115 0l0.6-0.6l44.4 0l0-479z"/>
<path fill="#00ff40" fill-rule="evenodd" d="M359.6 684.6l0 500l42.6 0l0.4-0.4l40.6 0l0.4-0.6l25 0l0.6-0.4l16.4 0l0.6-0.6l24 0l0.4-0.4l23.6-0.6l0.4-0.4l7.6 0l0.4-0.6l13.6 0l0.4-0.4l7.6 0l0.4-0.6l14-0.4l0.6-0.6l5 0l0.4-0.4l5.6 0l0.4-0.6l12-0.4l0.6-0.6l3.4 0l0.6-0.4l6 0l0.4-0.6l3.6 0l0.4-0.4l5.6 0l0.4-0.6l4 0l0.6-0.4l5 0l0.4-0.6l3.6 0l0.4-0.4l3.6 0l0.4-0.6l4.6 0l0.4-0.4l3.6 0l0.4-0.6l3.6 0l0.4-0.4l5.6 0l0.4-0.6l4 0l0.6-0.4l3.4 0l0.6-0.6l4 0l0.4-0.4l4 0l0.6-0.6l4 0l0.4-0.4l8-0.6l0.6-0.4l2.4 0l0.6-0.6l9-0.4l0.4-0.6l2 0l0.6-0.4l9-0.6l0.4-0.4l2 0l0.6-0.6l4 0l0.4-0.4l2 0l0.6-0.6l8.4-0.4l0.6-0.6l3.4 0l0.6-0.4l3.4 0l0.6-0.6l4.4 0l0.6-0.4l5.4 0l0.6-0.6l10.4-0.4l0.6-0.6l16-0.4l0.4-0.6l22-0.4l0.6-0.6l11.4 0l0.6-0.4l50-0.6l0.4-0.4l23.6 0l0.4-0.6l51.6 0l0.4-0.4l17.6 0l0.4 0.4l114 0l0.6-0.4l44.4 0l0-469.6z"/>
<path fill="#00ff00" fill-rule="evenodd" d="M359.6 684.6l0 494.6l42.6 0l0.4-0.6l39.6 0l0.4-0.4l25 0l0.6-0.6l30-0.4l0.4-0.6l11.6 0l0.4-0.4l11.6 0l0.4-0.6l9.6 0l0.4-0.4l7.6 0l0.4-0.6l9.6 0l0.4-0.4l5.6 0l0.4-0.6l7.6 0l0.4-0.4l5.6 0l0.4-0.6l7 0l0.6-0.4l5 0l0.4-0.6l5.6 0l0.4-0.4l12-0.6l0.6-0.4l3.4 0l0.6-0.6l6 0l0.4-0.4l3.6 0l0.4-0.6l6 0l0.6-0.4l9.4-0.6l0.6-0.4l4 0l0.4-0.6l3.6 0l0.4-0.4l5.6 0l0.4-0.6l3.6 0l0.4-0.4l3.6 0l0.4-0.6l5 0l0.6-0.4l3.4 0l0.6-0.6l3 0l0.4-0.4l3.6 0l0.4-0.6l3.6 0l0.4-0.4l3.6 0l0.4-0.6l4 0l2.6-1l3.4 0l0.6-0.4l6-0.6l0.4-0.4l4 0l2.6-1l3.4 0l2.6-1l4 0l2.4-1l3.6 0l2.4-1l3.6 0l2.4-1l3.6 0l0.4-0.6l3 0l0.6-0.4l3.4 0l0.6-0.6l3 0l0.4-0.4l3 0l0.6-0.6l5 0l0.4-0.4l9.6-0.6l0.4-0.4l15.6-0.6l0.4-0.4l9.6 0l0.4-0.6l11.6 0l0.4-0.4l11.6 0l0.4-0.6l13.6 0l0.4-0.4l38.6-0.6l0.4-0.4l22 0l0.6-0.6l51 0l0.4-0.4l134 0l0.6-0.6l44.4 0l0-460z"/>
<path fill="#40ff00" fill-rule="evenodd" d="M359.6 684.6l0 455l1 0.6l39.6 0l0.4-0.6l70-0.4l0.6-0.6l14.4 0l0.6-0.4l18-0.6l0.4-0.4l3.6 0l0.4-0.6l5.6 0l0.4-0.4l8-0.6l2.6-1l3.4 0l0.6-0.4l4 0l2.4-1l3.6 0l0.4-0.6l1.6 0l2.4-1l3.6 0l2.4-1l3.6 0l2.4-1l3.6 0l2-1l3.4 0l2-1l3.6 0l0.4-0.4l1.6 0l2.4-1l3.6 0l0.4-0.6l2 0l0.6-0.4l1.4 0l0.6-0.6l1.4 0l0.6-0.4l1.4 0l2.6-1l4 0l0.4-0.6l1.6 0l0.4-0.4l1.6 0l0.4-0.6l1.6 0l2.4-1l4-0.4l4-1.6l3.6 0l2-1l1.4 0l2-1l1.6 0l0.4-0.4l1.6 0l2.4-1l3.6 0l0.4-0.6l5.6-1l2-1l5-1l3-1.4l1.4 0l4-1.6l3.6-0.4l3-1.6l4.4-1l5-2.4l3-0.6l3-1.4l2.6-0.6l1.4-1l2.6-0.4l5-2.6l4.4-1l2.6-1.4l1.4 0l4.6-2l3.4-0.6l4.6-2l7.4-1.4l4-2l1.6 0l5.4-2l3.6-0.6l3-1.4l4.4-1l2.6-1.6l1.4 0l0.6-0.4l1.4 0l0.6-0.6l1.4 0l0.6-0.4l1.4 0l2.6-1l3.4 0l2.6-1l4 0l0.4-0.6l3.6 0l0.4-0.4l6 0l0.6-0.6l10 0l0.4 0.6l6 0l0.6 0.4l10 0.6l2.4 1l4 0l0.6 0.4l1.4 0l0.6 0.6l1.4 0l0.6 0.4l1.4 0l2.6 1l4 0l0.4 0.6l1.6 0l2.4 1l4 0l0.6 0.4l1.4 0l2.6 1l8 0.6l0.4 0.4l3.6 0l0.4 0.6l10.6 0.4l0.4 0.6l8 0l0.6 0.4l8 0l0.4 0.6l10.6 0l0.4 0.4l27 0l0.6 0.6l103 0l0.4 0.4l110 0l0-403z"/>
<path fill="#80ff00" fill-rule="evenodd" d="M359.6 684.6l0 449l96-0.4l0.6-0.6l25.4 0l0.6-0.4l11 0l0.4-0.6l8.6 0l0.4-0.4l4 0l0.6-0.6l5.4 0l0.6-0.4l8-0.6l0.4-0.4l3 0l0.6-0.6l3.4 0l0.6-0.4l3.4 0l0.6-0.6l2.4 0l0.6-0.4l3 0l0.4-0.6l2 0l0.6-0.4l3.4 0l2.6-1l3.4 0l0.6-0.6l2.4 0l0.6-0.4l3.4 0l2.6-1l7-0.6l0.4-0.4l2 0l2.6-1l2 0l0.4-0.6l2 0l0.6-0.4l4-0.6l5.4-2l3.6 0l4-1.4l1.4 0l0.6-0.6l7.4-1.4l2-1l5-0.6l2-1l1.6 0l2-1l3.4-0.4l2-1l3 0l0.6-0.6l1.4 0l0.6-0.4l1.4 0l0.6-0.6l1.4 0l0.6-0.4l7.4-1.6l1.6-1l5.4-1l3.6-1.4l1.4 0l1.6-1l1 0l2-1l1.4 0l1.6-1l3.4-1l2.6-1.6l3-0.4l2.4-1.6l1 0l2.6-1.4l1 0l7-3.6l2.4-0.4l3.6-2l1 0l5-2.6l3-0.4l3.4-2l8.6-2.6l2.4-1.4l4-1l1.6-1l1.4 0l0.6-0.6l5.4-1.4l1.6-1l5.4-1.6l1.6-1l1.4 0l0.6-0.4l3-0.6l2-1l1.4 0l2-1l4-0.4l2.6-1l3 0l0.4-0.6l2 0l0.6-0.4l3 0l0.4-0.6l12 0l0.6 0.6l4 0l0.4 0.4l2.6 0l2.4 1l3 0l0.6 0.6l2 0l0.4 0.4l3 0l2 1l3 0l2 1l4.6 0.6l0.4 0.4l1.6 0l0.4 0.6l1.6 0l0.4 0.4l1.6 0l2.4 1l4 0l2.6 1l2 0l0.4 0.6l4 0l0.6 0.4l2 0l0.4 0.6l9.6 0.4l0.4 0.6l4 0l0.6 0.4l19 0.6l0.4 0.4l46.6 0.6l0.4 0.4l211 0l0-394z"/>
<path fill="#b0ff00" fill-rule="evenodd" d="M359.6 684.6l0 442.6l42.6 0l0.4-0.6l53 0l0.6-0.4l25.4 0l0.6-0.6l18.4-0.4l0.6-0.6l6.4 0l0.6-0.4l6 0l0.4-0.6l4 0l0.6-0.4l5 0l0.4-0.6l4 0l0.6-0.4l6.4-0.6l0.6-0.4l5.4-0.6l0.6-0.4l4 0l0.4-0.6l3.6 0l0.4-0.4l6.6-0.6l0.4-0.4l2.6 0l0.4-0.6l2.6 0l0.4-0.4l6.6-0.6l4-1.4l3 0l0.4-0.6l3.6-0.4l3-1.6l4-0.4l0.4-0.6l2 0l0.6-0.4l1 0l2-1l1.4 0l0.6-0.6l1.4 0l0.6-0.4l2 0l3.4-1.6l6-1l2-1l1.6 0l2-1l3.4-0.4l2-1l4-0.6l0.6-0.4l5.4-1l2-1l5-0.6l2-1l1.6 0l4-1.4l1.4 0l1.6-1l1.4 0l1.6-1l1.4 0l0.6-0.6l2.4-0.4l1.6-1l3.4-1l1-1l5-1.6l24-12l1 0l5.6-3l1 0l2.4-1.4l1 0l3.6-2l3.4-1l6-3l5.6-1.6l1.4-1l2.6-0.4l5.4-2.6l3-0.4l9.6-3.6l1.4 0l0.6-0.4l5-1l0.4-0.6l2.6 0l2.4-1l3.6 0l0.4-0.4l11 0l0.6 0.4l2.4 0l0.6 0.6l5 0.4l0.4 0.6l3 0.4l3.6 1.6l5.4 1l0.6 0.4l3 0.6l5 2l1.4 0l2 1l1.6 0l0.4 0.4l1.6 0l0.4 0.6l1.6 0l0.4 0.4l1.6 0l2.4 1l4 0l2.6 1l4.4 0l0.6 0.6l3 0l0.4 0.4l8 0l0.6 0.6l5.4 0l0.6 0.4l19.4 0l0.6 0.6l46.4 0l0.6 0.4l209.4 0l0-385z"/>
<path fill="#e0ff00" fill-rule="evenodd" d="M359.6 684.6l0 436l96-0.4l0.6-0.6l25.4 0l0.6-0.4l14.4 0l0.6-0.6l9 0l0.4-0.4l6 0l0.6-0.6l4 0l0.4-0.4l11-0.6l2.6-1l4.4 0l0.6-0.4l8.4-0.6l0.6-0.4l3.4 0l0.6-0.6l4 0l0.4-0.4l6.6-0.6l0.4-0.4l2.6 0l0.4-0.6l5 0l5-2l5-0.4l4-2l6-1l3-1.6l1.6 0l2.4-1l2 0l3-1.4l1.6 0l2.4-1l2 0l3-1.6l3.6-0.4l5.4-2l1.6 0l0.4-0.6l1.6 0l0.4-0.4l1.6 0l0.4-0.6l1.6 0l0.4-0.4l1.6 0l0.4-0.6l1.6 0l2.4-1l3.6 0l2-1l5.4-1l6-2.4l3-0.6l16.6-7.4l1-1l4.4-2l1-1l2.6-1l4.4-3l7.6-3.6l1-1l6.4-3l1-1l5-2.4l1 0l6.6-3.6l2.4-0.4l2.6-1.6l1 0l1.4-1l6.6-2l1.4-1l3-0.4l3-1.6l2.6-0.4l1.4-1l2.6-0.6l2.4-1.4l1.6 0l2-1l4-0.6l0.4-0.4l1.6 0l2.4-1l3.6 0l0.4-0.6l10 0l0.6 0.6l3.4 0l0.6 0.4l1.4 0l0.6 0.6l1.4 0l0.6 0.4l5 1l1.4 1l2.6 0.6l3.4 2l3 0.4l2.6 1.6l2.4 0.4l1.6 1l1 0l1.4 1l2.6 0.6l3 1.4l1.4 0l0.6 0.6l1.4 0l0.6 0.4l1.4 0l2.6 1l4 0l2.4 1l5 0l0.6 0.6l11.4 0l0.6 0.4l280.4 0l0-376z"/>
<path fill="#ffff00" fill-rule="evenodd" d="M359.6 684.6l0 429l68 0l0.6-0.4l38.4 0l0.6-0.6l20.4 0l0.6-0.4l10.4 0l0.6-0.6l9 0l0.4-0.4l5.6 0l0.4-0.6l12-0.4l0.6-0.6l3.4 0l0.6-0.4l6 0l0.4-0.6l3.6 0l0.4-0.4l7.6-0.6l2.4-1l3.6 0l0.4-0.4l7-0.6l0.6-0.4l5-0.6l0.4-0.4l1.6 0l2.4-1l3.6 0l0.4-0.6l5.6-1l3-1.4l1.4 0l0.6-0.6l1.4 0l2.6-1l2 0l4.4-2l5.6-1l6-2.4l1.4 0l0.6-0.6l3-0.4l6.4-2.6l5-1l5-2.4l4.6-1l2.4-1.6l5-1.4l5-2.6l2.6-0.4l3.4-2l2.6-0.6l3.4-2l6.6-2l3.4-2l2.6-0.4l3.4-2l2.6-0.6l3.4-2l2.6-0.4l8-4l1 0l4-2l1-1l4.4-2l2-2l1.6-0.6l2.4-2l2.6-1l2-2l1.4-0.4l2.6-2.6l3.4-2l2-2l1.6-0.4l2-2l1.4-0.6l2.6-2.4l2-1l7.4-6l2-1l4-3.6l8-4l3-0.4l0.6-0.6l4.4 0l3 1.6l1.6 0l2 1l1 1l3 1.4l1.4 1.6l2.6 1l5.4 4.4l5.6 3l2 2l3.4 1.6l2 2l3.6 1.4l1 1l8.4 4.6l3 0.4l1.6 1l5 1l0.4 0.6l7 0.4l0.6 0.6l5.4 0l0.6 0.4l3.4 0l0.6 0.6l6.4 0l0.6 0.4l276.4 0l0-368z"/>
<path fill="#ffec00" fill-rule="evenodd" d="M359.6 684.6l0 416.6l78.6 0l0.4-0.6l38.6 0l0.4-0.4l13.6 0l0.4-0.6l7 0l0.6-0.4l7 0l0.4-0.6l7.6-0.4l0.4-0.6l2 0l0.6-0.4l3.4 0l0.6-0.6l1.4 0l2.6-1l4 0l0.4-0.4l1.6 0l0.4-0.6l1.6 0l2.4-1l6-0.4l0.6-0.6l1.4 0l0.6-0.4l7.4-1.6l2-1l3.6 0l0.4-0.4l3.6-0.6l2-1l3 0l0.4-0.4l1.6 0l0.4-0.6l1.6 0l2.4-1l3.6 0l0.4-0.4l1.6 0l0.4-0.6l1.6 0l0.4-0.4l1.6 0l2.4-1l2 0l0.6-0.6l1.4 0l0.6-0.4l1.4 0l2.6-1l3.4 0l0.6-0.6l1.4 0l0.6-0.4l1.4 0l0.6-0.6l7.4-1.4l4-1.6l3 0l0.6-0.4l5-1l3-1.6l4-0.4l4.4-2l2 0l0.6-0.6l3.4-0.4l3-1.6l5-1l2-1l1.6 0l2.4-1l4 0l0.6-0.4l1.4 0l0.6-0.6l1.4 0l2.6-1l4 0l2-1l3.4-0.4l12-5.6l9.6-7l8.4-8.4l1.6-3l2-2.6l3-6l0-1l1.4-3l0.6-3l0.4-0.4l0.6-9l-0.6-0.6l0-4.4l-0.4-0.6l0-1.4l-1-2.6l0-2l-1-2.4l0-5l-0.6-0.6l0-8.4l-0.4-0.6l0-8l-0.6-0.4l0-31.6l0.6-0.4l0-6l0.4-0.6l0-3.4l1-2.6l0-3l1-1.4l2-6.6l2.6-4l1.4-1.4l1.6-3l2.4-2l1.6 0l0.4 0.4l0 79.6l1 1.4l3 3l21.6 0l3-2.4l1-2l0-78.6l1.4-1l1 0l2-1l3 0.6l1 1l4 8l0 1l3.6 7l0 1l3 5.4l0.4 2l2 2.6l2 5l1 1l2 4.4l1 1l2 4.6l4 6l3 6l2 2l0.6 1.4l2 2.6l2 4.4l2 2.6l2.4 5.4l1 1l4 7.6l0.6 2.4l1.4 3l0 2l0.6 0.6l0 1.4l1 2.6l0 9l0.4 0.4l0.6 10l1.4 4l2 2l4 2l2 0l2.6 1l8.4 0.6l0.6 0.4l4.4 0l0.6 0.6l11 0l0.4 0.4l45.6 0l0.4 0.6l226 0l0-351.6z"/>
<path fill="#ffcc00" fill-rule="evenodd" d="M359.6 684.6l0 410.6l80.6 0l0.4-0.6l28 0l0.6-0.4l16.4 0l0.6-0.6l9 0l0.4-0.4l6.6 0l0.4-0.6l5.6 0l0.4-0.4l3.6 0l0.4-0.6l8-0.4l2.6-1l3.4 0l0.6-0.6l2 0l0.4-0.4l3.6 0l0.4-0.6l1.6 0l0.4-0.4l1.6 0l2.4-1l4 0l0.6-0.6l1.4 0l2.6-1l3.4 0l2-1l1.6 0l0.4-0.4l3.6 0l4-1.6l3 0l2.4-1l3.6 0l0.4-0.4l1.6 0l2.4-1l2 0l2.6-1l2 0l0.4-0.6l4 0l0.6-0.4l2 0l2.4-1l2 0l2.6-1l2 0l0.4-0.6l1.6 0l0.4-0.4l1.6 0l2.4-1l3 0l2.6-1l2.4 0l1.6-1l4.4-0.6l4.6-2l4-0.4l3-1.6l4-0.4l0.4-0.6l1.6 0l1.4-1l5.6-1l1.4-1l1 0l2-1l4-0.4l0.6-0.6l1.4 0l2.6-1l4 0l0.4-0.4l2 0l3-1.6l3-0.4l3-1.6l2.6-0.4l5-2.6l1-1l7.4-4l9-8.4l2.6-4.6l1-1l1-3.4l1.4-3l0-2l0.6-0.6l0-2l0.4-0.4l0-8l-0.4-0.6l-0.6-8.4l-0.4-0.6l-0.6-4l-0.4-0.4l0-1.6l-1-2.4l0-3.6l-0.6-0.4l0-2l-0.4-0.6l0-1.4l-1-2.6l0-2l-0.6-0.4l0-4l-0.4-0.6l0-4l-0.6-0.4l0-4l-0.4-0.6l0-5.4l-0.6-0.6l0-16.4l0.6-0.6l0-4l1-2.4l0-3.6l0.4-0.4l0-1.6l1.6-3l1-4l4.4-8.4l3-3l0-0.6l7-6.4l18.6 0l0.4 0.4l0 70.6l1 2l2 1.4l1 0l0.6 0.6l3.4-0.6l3-3.4l0-70.6l0.6-0.4l3.4 0l0.6-0.6l11.4 0l0.6 0.6l1.4 0l2.6 1l2.4 2.4l8.6 12.6l10.4 11.4l0 0.6l7.6 7l1.4 0.4l5.6 4.6l4.4 2.4l2 2l8.6 4.6l2 2l5.4 2.4l2 2l5 2.6l4 3l5.6 2.4l2 1.6l2.4 0.4l1.6 1l3.4 0.6l3 1.4l1.6 0l2 1l5.4 1l3 1.6l1.6 0l0.4 0.4l1.6 0l0.4 0.6l1.6 0l0.4 0.4l4 1l7 3.6l1 1l3 1.4l2.6 0.6l3.4 2l3 0.4l3.6 2l3 0.6l3 1.4l5.4 1l2.6 1.6l1 0l1 1l-2.6 1.4l-2.4 0.6l-5.6 2.4l-1.4 0l-3 1.6l-3 0l-0.6 0.4l-1.4 0l-2.6 1l-3.4 0l-2.6 1l-8 0.6l-0.4 0.4l-3.6 0l-0.4 0.6l-12 0.4l-0.6 0.6l-10 0l-0.4 0.4l-5.6 0l-0.4 0.6l-4.6 0l-0.4 0.4l-4 0l-0.6 0.6l-2 0l-0.4 0.4l-6 0.6l1 1l1.4 0.4l2.6 2.6l7 3l12.4 0.4l0.6 0.6l29.4 0l0.6 0.4l236.4 0l0-339z"/>
<path fill="#ffa000" fill-rule="evenodd" d="M359.6 684.6l0 405l44 0l0.6-0.4l42.4 0l0.6-0.6l26 0l0.4-0.4l14 0l0.6-0.6l16-0.4l0.4-0.6l5.6 0l0.4-0.4l3.6 0l0.4-0.6l8-0.4l2.6-1l8-0.6l0.4-0.4l1.6 0l2.4-1l3.6 0l0.4-0.6l2 0l0.6-0.4l3.4 0l0.6-0.6l5-0.4l0.4-0.6l1.6 0l2.4-1l7-0.4l2-1l3.6 0l2.4-1l3.6 0l0.4-0.6l2 0l0.6-0.4l4-0.6l2.4-1l4.6 0l0.4-0.4l4-0.6l0.6-0.4l4-0.6l0.4-0.4l3.6 0l0.4-0.6l1.6 0l2.4-1l3 0l0.6-0.4l5-0.6l0.4-0.4l3.6-0.6l2-1l3.4-0.4l3-1.6l2 0l0.6-0.4l1.4 0l1.6-1l5.4-1l1.6-1l1.4 0l0.6-0.6l3.4-0.4l2-1l1.6 0l2.4-1l2 0l0.6-0.6l5.4-1l3-1.4l3-0.6l11-5.4l3.6-2.6l3-3l0.4 0l6-6.4l5-9.6l0.6-4l0.4-0.4l0-10l-0.4-0.6l0-2l-0.6-0.4l-0.4-4l-1-2.6l0-2l-0.6-0.4l-0.4-3.6l-1-1.4l-1.6-5l-2-4l-0.4-3l-2-4l0-1.6l-0.6-0.4l0-3.6l-0.4-0.4l0-1.6l-1-2.4l0-4l-0.6-0.6l0-3.4l-0.4-0.6l0-5.4l-0.6-0.6l0-6.4l0.6-0.6l0-3.4l0.4-0.6l0-1.4l1-2.6l0.6-4l2.4-4.4l0-1l1-2l2-2l1.6-3l10.4-10l3.6-2.6l4-2l3.4 0l0.6-0.4l2 0l1-0.6l5.4-6l3.6-0.4l0.4-0.6l27.6 0l0.4 0.6l1.6 0l3 2.4l0.4 1.6l2 2.4l2 0.6l6 3l3 0.4l8.6 4.6l1 1l4.4 2l2 1.4l1 0l2.6 1.6l2.4 0.4l1.6 1l2.4 0.6l3.6 2l4.4 1l1.6 1l2.4 0.4l3 1.6l4 0.4l0.6 0.6l1.4 0l0.6 0.4l1.4 0l2.6 1l2 0l4.4 2l2 0l0.6 0.6l1.4 0l0.6 0.4l1.4 0l2.6 1l2 0l0.4 0.6l3.6 0l2.4 1l3.6 0l2.4 1l3.6 0l0.4 0.4l3.6 0l0.4 0.6l8.6 0.4l0.4 0.6l3.6 0l0.4 0.4l3.6 0l0.4 0.6l6 0l0.6 0.4l5.4 0l0.6 0.6l6 0l0.4 0.4l7.6 0l0.4 0.6l7.6 0l0.4 0.4l9.6 0l0.4 0.6l13.6 0l0.4 0.4l37 0.6l0.6 0.4l25.4 0l0.6 0.6l39.4 0l0.6 0.4l77.4 0l0-264z"/>
<path fill="#ff7000" fill-rule="evenodd" d="M359.6 684.6l0 399.6l96-0.6l0.6-0.4l21 0l0.4-0.6l12 0l0.6-0.4l8.4 0l0.6-0.6l13-0.4l0.4-0.6l3.6 0l0.4-0.4l4 0l2.6-1l8-0.6l2.4-1l3.6 0l2.4-1l4 0l2.6-1l3.4 0l0.6-0.4l5-0.6l2.4-1l3.6 0l0.4-0.4l6.6-0.6l2.4-1l8-0.4l0.6-0.6l4-0.4l0.4-0.6l4 0l0.6-0.4l2 0l0.4-0.6l4 0l2.6-1l4 0l2.4-1l3.6 0l0.4-0.4l2.6 0l0.4-0.6l6.6-0.4l1.4-1l1.6 0l0.4-0.6l7.6-1.4l1.4-1l5.6-1l1.4-1l4-0.6l0.6-0.4l2 0l5.4-2l7.6-1.6l3-1.4l2.4-0.6l3-1.4l1-1l5.6-2.6l5-3.4l8-8.6l3-6l1-5l0.4-0.4l0-2l0.6-0.6l0-8.4l-1-2.6l0-2l-0.6-0.4l-0.4-3.6l-2.6-4.4l0-1l-4-8l-1-1l-2.4-5.6l-2-2l-1.6-3.4l-2-3l-0.4-2l-1.6-2l-0.4-2.6l-1-1.4l-0.6-2.6l-1.4-3l-0.6-3l-1-1.4l0-1l-1-2l-0.4-4l-0.6-0.6l0-3.4l-1-2.6l0-2l-2-5l0-6l0.6-0.4l0.4-7.6l3.6-7.4l3-3.6l3-1.4l3-0.6l0.4-0.4l3.6 0l0.4-0.6l8.6 0l1-0.4l0-4l0.4-0.6l0-1l5-10l3-4l11-10.4l1.6-0.6l2-2l9-4.4l1 0l3-1.6l2 0l0.4-0.4l1.6 0l0.4-0.6l1.6 0l2.4-1l4 0l0.6-0.4l10.4 0l0.6 0.4l3.4 0l0.6 0.6l4 0.4l0.4 0.6l5 1l1.6 1l2.4 0.4l5 2.6l8.6 6l8 8l0.4 1.4l3 3l4 8.6l0.6 3l1 2l0 2l1.4 1.4l11 0l0.6 0.6l79.4 0l0.6 0.4l230.4 0l0-227z"/>
<path fill="#ff3300" fill-rule="evenodd" d="M359.6 921.2l0 157l68 0l0.6-0.6l32 0l0.4-0.4l18.6 0l0.4-0.6l22.6-0.4l0.4-0.6l11.6-0.4l0.4-0.6l4 0l0.6-0.4l3.4 0l0.6-0.6l3.4 0l0.6-0.4l8-0.6l2.4-1l8-0.4l2.6-1l3.4 0l0.6-0.6l3 0l0.4-0.4l3.6 0l2.4-1l3 0l0.6-0.6l3 0l0.4-0.4l3.6 0l0.4-0.6l3.6 0l2.4-1l4 0l2.6-1l8.4-0.4l2.6-1l4 0l2.4-1l7-0.6l2-1l6-0.4l0.6-0.6l1.4 0l0.6-0.4l1.4 0l0.6-0.6l1.4 0l2.6-1l2 0l0.4-0.4l3-0.6l3-1.4l5-1l1.6-1l3.4-0.6l6-2.4l1.6 0l0.4-0.6l1.6 0l0.4-0.4l2.6-0.6l12.4-6l3-2l5.6-6.4l2.4-5l0.6-3l0.4-0.6l0-6.4l-0.4-0.6l-0.6-4l-1.4-3l-0.6-2.4l-8-15.6l-1-1l-0.4-1.4l-2-2l-1.6-3l-2.4-2.6l-2.6-4.4l-4-4l-0.4-1.6l-3.6-3.4l-0.4-1.6l-6.6-7l-1-2l-3-3l0-0.4l-6-5.6l-0.4 0l-4.6-4l-2-1l-2.4-2.4l-2.6-1l-2.4-2l-4.6-2l-1-1l-3.4-1l-1.6-1l-1 0l-2-1l-1.4 0l-0.6-0.6l-2 0l-3-1.4l-1.4 0l-0.6-0.6l-1.4 0l-0.6-0.4l-1.4 0l-0.6-0.6l-1.4 0l-2.6-1l-3 0l-2.4-1l-5.6 0l-0.4-0.4l-4.6 0l-0.4-0.6l-7.6-0.4l-0.4-0.6l-4 0l-0.6-0.4l-4 0l-0.4-0.6l-6.6 0l-0.4-0.4l-10.6-0.6l-0.4-0.4l-5.6 0l-0.4-0.6l-19-0.4l-0.6-0.6l-11.4 0l-0.6-0.4l-14.4 0l-0.6-0.6l-20 0l-0.4-0.4z"/>
<path fill="#ff0000" fill-rule="evenodd" d="M359.6 934.6l0 137.6l50 0l0.6-0.6l40 0l0.4-0.4l27.6 0l0.4-0.6l17.6 0l0.4-0.4l9.6 0l0.4-0.6l12-0.4l0.6-0.6l5.4 0l0.6-0.4l3.4 0l0.6-0.6l6 0l0.4-0.4l7.6-0.6l2.4-1l7.6-0.4l0.4-0.6l2 0l0.6-0.4l3.4 0l2.6-1l8-0.6l0.4-0.4l3 0l2.6-1l8.4-0.6l2.6-1l4.4 0l2.6-1l8.4-0.4l0.6-0.6l2 0l0.4-0.4l3.6 0l0.4-0.6l6-0.4l0.6-0.6l1.4 0l2.6-1l3.4 0l0.6-0.4l1.4 0l2-1l3-0.6l3-1.4l1.6 0l0.4-0.6l1.6 0l0.4-0.4l7.6-1.6l2.4-1.4l1.6 0l3-1.6l5-1.4l9-5l6-6l2.4-5l0-1.6l1-2.4l0-3.6l-3-7l-5-7l-0.4-1.4l-4-4l-1-2l-5-4.6l0-0.4l-4-4l-3-4l-21.6-23l-0.4 0l-2.6-2.6l-2-1l-3.4-3l-2.6-0.4l-3-2l-2.4-0.6l-5-2.4l-3-0.6l-1.6-1l-3-0.4l-1.4-1l-3-0.6l-3-1.4l-2.6 0l-0.4-0.6l-6.6 0.6l-0.4-0.6l-2.6 0l-0.4-0.4l-2.6 0l-0.4-0.6l-3.6 0l-2-1l-4 0l-2.4-1l-4 0l-0.6-0.4l-2 0l-2.4-1l-4.6 0l-2.4-1l-8.6-0.6l-0.4-0.4l-3.6 0l-0.4-0.6l-11-0.4l-0.6-0.6l-5.4 0l-0.6-0.4l-7.4 0l-0.6-0.6l-7.4 0l-0.6-0.4l-8 0l-0.4-0.6l-26.6-0.4l-0.4-0.6z"/>
</g>
<g fill="none" stroke="#000" stroke-opacity="0.55" stroke-width="1.25">
<path d="M403.2 908.5H1075.1M403.2 1015.8H1075.1M403.2 1060.2H1075.1M538 1015.8V1060.2M940.8 1015.8V1060.2M672.4 1060.2V997.8H806.8V1060.2M703.8 908.5V997.8M721.9 908.5V997.8M757.2 908.5V997.8M775.1 908.5V997.8"/>
</g>
<rect x="403.95" y="728.95" width="670.6" height="510.6" fill="none" stroke="#1a1a1a" stroke-opacity="0.55" stroke-width="1.2"/>
<text class="dc" transform="translate(416.2 771.7) scale(0.943 1)" font-weight="bold" font-style="italic" font-size="40.7" fill="#000">Electrolyte</text>
<text class="dc" transform="translate(583.4 843.7) scale(1.018 1)" font-weight="bold" font-size="53.4" fill="#000">0.02M NaCl</text>
<text class="dc" transform="translate(414.6 965.5) scale(0.969 1)" font-weight="bold" font-style="italic" font-size="40.7" fill="#000">Membrane</text>
<text class="dc" transform="translate(416.2 1187.8) scale(0.912 1)" font-weight="bold" font-style="italic" font-size="40.7" fill="#000">FinFET</text>
<text class="dc" transform="translate(724.4 1141.8) scale(1.080 1)" font-weight="bold" font-style="italic" font-size="42.4" fill="#000">j</text>
<path d="M688.4 1085.2H769.8V1077.6L785.2 1092.2L769.8 1106.8V1099.2H688.4z" fill="#000" stroke="#000" stroke-width="1.6" stroke-linejoin="round"/>
</g>
<g id="chart-iv">
<text class="dj" transform="translate(1641 30.7) scale(0.962 1)" text-anchor="middle" font-size="40.1">IV Characteristic varying NaCl Concentration</text>
<path d="M1347.7 498.4C1348.27 497.75 1349.39 496.38 1351.11 494.51C1352.83 492.63 1355.31 489.87 1358.04 487.15C1360.76 484.43 1363.98 481.27 1367.48 478.19C1370.98 475.12 1374.87 471.84 1379.04 468.69C1383.2 465.54 1387.71 462.37 1392.48 459.3C1397.25 456.23 1402.33 453.26 1407.65 450.3C1412.97 447.33 1418.58 444.47 1424.42 441.52C1430.26 438.58 1436.36 435.64 1442.69 432.64C1449.02 429.64 1455.6 426.64 1462.39 423.53C1469.19 420.43 1476.22 417.32 1483.45 414.03C1490.69 410.75 1498.15 407.39 1505.82 403.82C1513.48 400.25 1521.36 396.52 1529.43 392.61C1537.51 388.69 1545.79 384.61 1554.26 380.33C1562.74 376.06 1571.41 371.61 1580.27 366.97C1589.13 362.33 1598.18 357.51 1607.41 352.5C1616.65 347.49 1626.07 342.29 1635.66 336.9C1645.26 331.51 1655.04 325.93 1665 320.16C1674.95 314.39 1685.08 308.43 1695.38 302.28C1705.68 296.14 1716.16 289.77 1726.8 283.3C1737.44 276.83 1748.25 270.15 1759.22 263.46C1770.2 256.76 1781.34 249.92 1792.64 243.13C1803.94 236.35 1815.4 229.53 1827.02 222.76C1838.64 215.99 1850.42 209.27 1862.35 202.53C1874.28 195.8 1886.37 189.1 1898.62 182.36C1910.86 175.62 1929.6 165.48 1935.8 162.1" fill="none" stroke="#ff6600" stroke-width="5.2" stroke-linecap="butt" stroke-linejoin="round"/>
<path d="M1347.7 498.4C1348.27 498.04 1349.39 497.31 1351.11 496.27C1352.83 495.23 1355.31 493.7 1358.04 492.15C1360.76 490.6 1363.98 488.79 1367.48 486.97C1370.98 485.15 1374.87 483.17 1379.04 481.23C1383.2 479.28 1387.71 477.25 1392.48 475.28C1397.25 473.3 1402.33 471.31 1407.65 469.35C1412.97 467.4 1418.58 465.47 1424.42 463.55C1430.26 461.63 1436.36 459.75 1442.69 457.84C1449.02 455.94 1455.6 454.04 1462.39 452.12C1469.19 450.19 1476.22 448.27 1483.45 446.29C1490.69 444.3 1498.15 442.31 1505.82 440.19C1513.48 438.08 1521.36 435.93 1529.43 433.59C1537.51 431.25 1545.79 428.8 1554.26 426.16C1562.74 423.52 1571.41 420.71 1580.27 417.75C1589.13 414.79 1598.18 411.66 1607.41 408.41C1616.65 405.15 1626.07 401.74 1635.66 398.23C1645.26 394.72 1655.04 391.06 1665 387.34C1674.95 383.63 1685.08 379.78 1695.38 375.92C1705.68 372.05 1716.16 368.1 1726.8 364.16C1737.44 360.22 1748.25 356.26 1759.22 352.3C1770.2 348.34 1781.34 344.39 1792.64 340.39C1803.94 336.39 1815.4 332.38 1827.02 328.29C1838.64 324.21 1850.42 320.09 1862.35 315.85C1874.28 311.61 1886.37 307.32 1898.62 302.86C1910.86 298.41 1929.6 291.39 1935.8 289.1" fill="none" stroke="#b83200" stroke-width="5.2" stroke-linecap="butt" stroke-linejoin="round"/>
<path d="M1347.7 498.4C1348.27 498.17 1349.39 497.68 1351.11 497C1352.83 496.32 1355.31 495.31 1358.04 494.31C1360.76 493.31 1363.98 492.15 1367.48 490.99C1370.98 489.84 1374.87 488.6 1379.04 487.4C1383.2 486.2 1387.71 484.97 1392.48 483.78C1397.25 482.6 1402.33 481.43 1407.65 480.3C1412.97 479.17 1418.58 478.08 1424.42 476.99C1430.26 475.91 1436.36 474.86 1442.69 473.79C1449.02 472.72 1455.6 471.66 1462.39 470.58C1469.19 469.49 1476.22 468.42 1483.45 467.3C1490.69 466.17 1498.15 465.05 1505.82 463.85C1513.48 462.64 1521.36 461.42 1529.43 460.07C1537.51 458.73 1545.79 457.31 1554.26 455.77C1562.74 454.24 1571.41 452.6 1580.27 450.86C1589.13 449.13 1598.18 447.29 1607.41 445.37C1616.65 443.45 1626.07 441.44 1635.66 439.36C1645.26 437.29 1655.04 435.12 1665 432.93C1674.95 430.73 1685.08 428.46 1695.38 426.18C1705.68 423.9 1716.16 421.56 1726.8 419.25C1737.44 416.94 1748.25 414.62 1759.22 412.3C1770.2 409.99 1781.34 407.69 1792.64 405.36C1803.94 403.02 1815.4 400.69 1827.02 398.28C1838.64 395.88 1850.42 393.46 1862.35 390.92C1874.28 388.39 1886.37 385.82 1898.62 383.1C1910.86 380.38 1929.6 376.02 1935.8 374.6" fill="none" stroke="#000" stroke-width="5.2" stroke-linecap="butt" stroke-linejoin="round"/>
<rect x="1320" y="88.8" width="645" height="427.4" fill="none" stroke="#000" stroke-width="1.7"/>
<text class="dj" transform="translate(1304.8 510.3) scale(0.962 1)" text-anchor="end" font-size="29.8">0.0E+00</text>
<text class="dj" transform="translate(1304.8 428.18) scale(0.962 1)" text-anchor="end" font-size="29.8">5.0E-08</text>
<text class="dj" transform="translate(1304.8 346.06) scale(0.962 1)" text-anchor="end" font-size="29.8">1.0E-07</text>
<text class="dj" transform="translate(1304.8 263.94) scale(0.962 1)" text-anchor="end" font-size="29.8">1.5E-07</text>
<text class="dj" transform="translate(1304.8 181.82) scale(0.962 1)" text-anchor="end" font-size="29.8">2.0E-07</text>
<text class="dj" transform="translate(1304.8 99.7) scale(0.962 1)" text-anchor="end" font-size="29.8">2.5E-07</text>
<text class="dj" transform="translate(1348.1 550.5) scale(0.962 1)" text-anchor="middle" font-size="29.8">0.0</text>
<text class="dj" transform="translate(1465.46 550.5) scale(0.962 1)" text-anchor="middle" font-size="29.8">0.1</text>
<text class="dj" transform="translate(1582.82 550.5) scale(0.962 1)" text-anchor="middle" font-size="29.8">0.2</text>
<text class="dj" transform="translate(1700.18 550.5) scale(0.962 1)" text-anchor="middle" font-size="29.8">0.3</text>
<text class="dj" transform="translate(1817.54 550.5) scale(0.962 1)" text-anchor="middle" font-size="29.8">0.4</text>
<text class="dj" transform="translate(1934.9 550.5) scale(0.962 1)" text-anchor="middle" font-size="29.8">0.5</text>
<path d="M1320 499.4h-7.3M1320 417.28h-7.3M1320 335.16h-7.3M1320 253.04h-7.3M1320 170.92h-7.3M1320 88.8h-7.3M1348.9 516.2v7.3M1466.26 516.2v7.3M1583.62 516.2v7.3M1700.98 516.2v7.3M1818.34 516.2v7.3M1935.7 516.2v7.3" stroke="#000" stroke-width="1.7" fill="none"/>
<text class="dj" transform="translate(1640.6 586.5) scale(0.962 1)" text-anchor="middle" font-weight="bold" font-size="30.15">Voltage (V)</text>
<text class="dj" transform="translate(1165.6 302.7) rotate(-90) scale(0.962 1)" text-anchor="middle" font-weight="bold" font-size="30.15">Current (A)</text>
<rect x="1334" y="102.8" width="192.6" height="136.2" rx="4.2" fill="#fff" fill-opacity="0.8" stroke="#ccc" stroke-width="1.7"/>
<path d="M1341.2 125.5H1405" stroke="#ff6600" stroke-width="5.6" fill="none"/>
<text class="dj" transform="translate(1425.2 135.2) scale(0.962 1)" font-size="29.8">2.0M</text>
<path d="M1341.2 168.4H1405" stroke="#b83200" stroke-width="5.6" fill="none"/>
<text class="dj" transform="translate(1425.2 178.1) scale(0.962 1)" font-size="29.8">0.2M</text>
<path d="M1341.2 210.2H1405" stroke="#000" stroke-width="5.6" fill="none"/>
<text class="dj" transform="translate(1425.2 219.9) scale(0.962 1)" font-size="29.8">0.02M</text>
</g>
<g id="chart-sens">
<text class="dj" transform="scale(0.962 1)" y="689.3" font-size="40.1"><tspan x="1344.91" font-size="39.78">Concentration Sensitivity (</tspan><tspan x="1872.66" font-size="40.1" font-style="italic">V</tspan><tspan x="1900.73" dy="5.8" font-size="28.07" font-style="italic">ds</tspan><tspan x="1942.1" dy="-5.8" font-size="40.1">=</tspan><tspan x="1981.91">0.5V)</tspan></text>
<path d="M1359.4 1095.9L1534.2 1036.9L1635.9 999.2L1708.7 974.7L1765.2 952.4L1811.9 932.1L1850.3 915.4L1884.6 901.6L1913.3 889.3L1940.9 878.5" fill="none" stroke="#111" stroke-width="2.1" stroke-dasharray="7.7 3.3"/>
<ellipse cx="1359.4" cy="1095.9" rx="8.3" ry="8.6" fill="#000"/>
<ellipse cx="1534.2" cy="1036.9" rx="8.3" ry="8.6" fill="#000"/>
<ellipse cx="1635.9" cy="999.2" rx="8.3" ry="8.6" fill="#000"/>
<ellipse cx="1708.7" cy="974.7" rx="8.3" ry="8.6" fill="#000"/>
<ellipse cx="1765.2" cy="952.4" rx="8.3" ry="8.6" fill="#000"/>
<ellipse cx="1811.9" cy="932.1" rx="8.3" ry="8.6" fill="#000"/>
<ellipse cx="1850.3" cy="915.4" rx="8.3" ry="8.6" fill="#000"/>
<ellipse cx="1884.6" cy="901.6" rx="8.3" ry="8.6" fill="#000"/>
<ellipse cx="1913.3" cy="889.3" rx="8.3" ry="8.6" fill="#000"/>
<ellipse cx="1940.9" cy="878.5" rx="8.3" ry="8.6" fill="#000"/>
<text class="dj" transform="scale(0.962 1)" y="830.9" font-size="29.8"><tspan x="1412.27" font-style="italic">I</tspan><tspan x="1428.48">=</tspan><tspan x="1459.04">1.0</tspan><tspan x="1512.89">×</tspan><tspan x="1542.62">10</tspan><tspan x="1581.29" dy="-10.9" font-size="20.86">−7</tspan><tspan x="1618.3" dy="10.9" font-size="29.8">·</tspan><tspan x="1633.47">log</tspan><tspan x="1679.63" dy="5" font-size="20.86">10</tspan><tspan x="1710.81" dy="-5" font-size="29.8">[</tspan><tspan x="1723.7" font-style="italic">NaCl</tspan><tspan x="1792.52">]</tspan><tspan x="1811.43">+</tspan><tspan x="1840.33">2.3</tspan><tspan x="1893.97">×</tspan><tspan x="1925.36">10</tspan><tspan x="1964.24" dy="-10.9" font-size="20.86">−7</tspan></text>
<rect x="1330.6" y="748.8" width="639.1" height="423.8" fill="none" stroke="#000" stroke-width="1.7"/>
<text class="dj" transform="translate(1316 1183.5) scale(0.962 1)" text-anchor="end" font-size="29.8">0.10</text>
<text class="dj" transform="translate(1316 1042.23) scale(0.962 1)" text-anchor="end" font-size="29.8">0.15</text>
<text class="dj" transform="translate(1316 900.96) scale(0.962 1)" text-anchor="end" font-size="29.8">0.20</text>
<text class="dj" transform="translate(1316 759.69) scale(0.962 1)" text-anchor="end" font-size="29.8">0.25</text>
<text class="dj" transform="translate(1359 1206.8) scale(0.962 1)" text-anchor="middle" font-size="29.8">0.2</text>
<text class="dj" transform="translate(1533.96 1206.8) scale(0.962 1)" text-anchor="middle" font-size="29.8">0.4</text>
<text class="dj" transform="translate(1636.3 1206.8) scale(0.962 1)" text-anchor="middle" font-size="29.8">0.6</text>
<text class="dj" transform="translate(1765.24 1206.8) scale(0.962 1)" text-anchor="middle" font-size="29.8">1.0</text>
<text class="dj" transform="translate(1940.2 1206.8) scale(0.962 1)" text-anchor="middle" font-size="29.8">2.0</text>
<path d="M1330.6 1172.6h-7.3M1330.6 1031.33h-7.3M1330.6 890.06h-7.3M1330.6 748.79h-7.3M1359.6 1172.6v7.3M1534.56 1172.6v7.3M1636.9 1172.6v7.3M1765.84 1172.6v7.3M1940.8 1172.6v7.3" stroke="#000" stroke-width="1.7" fill="none"/>
<path d="M1461.94 1172.6v4.2M1590.88 1172.6v4.2M1675.81 1172.6v4.2M1709.52 1172.6v4.2M1739.25 1172.6v4.2" stroke="#000" stroke-width="1.3" fill="none"/>
<text class="dj" transform="translate(1649.8 1242.3) scale(0.962 1)" text-anchor="middle" font-weight="bold" font-size="30.15">NaCl Concentration (M)</text>
<text class="dj" transform="translate(1236.2 961.4) rotate(-90) scale(0.962 1)" text-anchor="middle" font-weight="bold" font-size="30.15">Current (µA)</text>
</g>
</svg>
</body></html>
